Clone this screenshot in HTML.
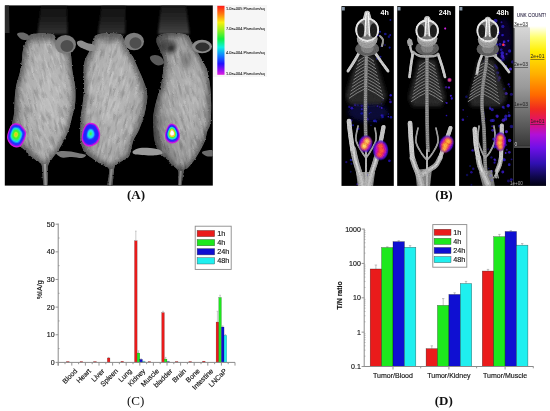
<!DOCTYPE html>
<html><head><meta charset="utf-8"><style>
html,body{margin:0;padding:0;background:#fff;}
body{width:550px;height:411px;overflow:hidden;}
svg{display:block;}
.ct{fill:#111;stroke:#111;stroke-width:0.14px;}
</style></head><body>
<svg width="550" height="411" viewBox="0 0 550 411">
<rect width="550" height="411" fill="#fff"/>
<defs>
<linearGradient id="coneg1" x1="0" y1="0" x2="0" y2="1"><stop offset="0" stop-color="#0e0e0e"/><stop offset="0.5" stop-color="#1c1c1c"/><stop offset="1" stop-color="#333"/></linearGradient>
<linearGradient id="coneg3" x1="0" y1="0" x2="0" y2="1"><stop offset="0" stop-color="#161616"/><stop offset="0.5" stop-color="#282828"/><stop offset="1" stop-color="#444"/></linearGradient>
<radialGradient id="body1" cx="0.58" cy="0.45" r="0.62"><stop offset="0" stop-color="#bababa"/><stop offset="0.55" stop-color="#a8a8a8"/><stop offset="0.82" stop-color="#888"/><stop offset="1" stop-color="#5a5a5a"/></radialGradient>
<radialGradient id="body2" cx="0.48" cy="0.45" r="0.62"><stop offset="0" stop-color="#b8b8b8"/><stop offset="0.55" stop-color="#a6a6a6"/><stop offset="0.82" stop-color="#868686"/><stop offset="1" stop-color="#585858"/></radialGradient>
<radialGradient id="body3" cx="0.6" cy="0.45" r="0.62"><stop offset="0" stop-color="#b0b0b0"/><stop offset="0.55" stop-color="#9c9c9c"/><stop offset="0.82" stop-color="#7e7e7e"/><stop offset="1" stop-color="#505050"/></radialGradient>
<linearGradient id="hl" x1="0" y1="0" x2="0" y2="1"><stop offset="0" stop-color="#fff" stop-opacity="0.12"/><stop offset="0.45" stop-color="#fff" stop-opacity="0.06"/><stop offset="0.75" stop-color="#fff" stop-opacity="0"/><stop offset="1" stop-color="#000" stop-opacity="0.12"/></linearGradient>
<filter id="furf" x="0" y="0" width="100%" height="100%">
<feTurbulence type="fractalNoise" baseFrequency="0.45 0.09" numOctaves="2" seed="7" result="n"/>
<feColorMatrix in="n" type="matrix" values="0 0 0 0 1  0 0 0 0 1  0 0 0 0 1  2.2 0 0 0 -1.0"/>
</filter>
<filter id="furd" x="0" y="0" width="100%" height="100%">
<feTurbulence type="fractalNoise" baseFrequency="0.38 0.08" numOctaves="2" seed="11" result="n"/>
<feColorMatrix in="n" type="matrix" values="0 0 0 0 0  0 0 0 0 0  0 0 0 0 0  2.2 0 0 0 -1.05"/>
</filter>
<filter id="fuzz" x="-5%" y="-5%" width="110%" height="110%"><feTurbulence type="fractalNoise" baseFrequency="0.6" numOctaves="2" seed="4" result="t"/><feDisplacementMap in="SourceGraphic" in2="t" scale="2.4" xChannelSelector="R" yChannelSelector="G" result="d"/><feGaussianBlur in="d" stdDeviation="0.35"/></filter>
<filter id="blurc" x="-20%" y="-20%" width="140%" height="140%"><feGaussianBlur stdDeviation="1.0"/></filter>
<filter id="blur1" x="-30%" y="-30%" width="160%" height="160%"><feGaussianBlur stdDeviation="0.55"/></filter>
<filter id="blur2" x="-20%" y="-20%" width="140%" height="140%"><feGaussianBlur stdDeviation="2.2"/></filter>
<radialGradient id="tum1" cx="0.46" cy="0.42" r="0.56"><stop offset="0" stop-color="#e8e830"/><stop offset="0.14" stop-color="#a8f030"/><stop offset="0.28" stop-color="#34f040"/><stop offset="0.42" stop-color="#20e8b0"/><stop offset="0.52" stop-color="#20a8ff"/><stop offset="0.62" stop-color="#2028ff"/><stop offset="0.74" stop-color="#5a18f8"/><stop offset="0.84" stop-color="#d020e8"/><stop offset="0.93" stop-color="#d020e8"/><stop offset="1" stop-color="#d020e8" stop-opacity="0"/></radialGradient>
<radialGradient id="tum2" cx="0.52" cy="0.45" r="0.56"><stop offset="0" stop-color="#50f080"/><stop offset="0.1" stop-color="#20e8d0"/><stop offset="0.22" stop-color="#20a0ff"/><stop offset="0.32" stop-color="#2030ff"/><stop offset="0.6" stop-color="#3020ff"/><stop offset="0.74" stop-color="#8020f0"/><stop offset="0.85" stop-color="#e020e0"/><stop offset="0.93" stop-color="#e020e0"/><stop offset="1" stop-color="#e020e0" stop-opacity="0"/></radialGradient>
<radialGradient id="tum3" cx="0.5" cy="0.42" r="0.55"><stop offset="0" stop-color="#ffffff"/><stop offset="0.22" stop-color="#f8f8c0"/><stop offset="0.36" stop-color="#e8e020"/><stop offset="0.48" stop-color="#50f040"/><stop offset="0.6" stop-color="#20e0e0"/><stop offset="0.74" stop-color="#2030ff"/><stop offset="0.88" stop-color="#9018f0"/><stop offset="1" stop-color="#d018e0" stop-opacity="0"/></radialGradient>
<clipPath id="clipA"><rect x="4.8" y="5.4" width="208" height="180.2"/></clipPath>
</defs>
<rect x="4.8" y="5.4" width="208" height="180.2" fill="#000"/>
<g clip-path="url(#clipA)">
<path d="M5,5 L9,5 L9.5,33 L5,33Z" fill="#2a2a2a"/>
<path d="M41,5 L67,5 L67.5,34 L37.5,34Z" fill="url(#coneg1)" filter="url(#blurc)"/>
<path d="M101.5,5 L126,5 L125,34 L98,34Z" fill="url(#coneg1)" filter="url(#blurc)"/>
<path d="M161,5 L186,5 L189.5,34 L158,34Z" fill="url(#coneg3)" filter="url(#blurc)"/>
<clipPath id="mc0"><path d="M30.0,35.0 C32.0,33.6 35.2,33.8 38.0,33.5 C40.8,33.2 44.3,33.2 47.0,33.5 C49.7,33.8 52.3,33.6 54.0,35.0 C55.7,36.4 55.5,39.7 57.0,42.0 C58.5,44.3 60.8,47.3 63.0,49.0 C65.2,50.7 68.6,50.2 70.0,52.0 C71.4,53.8 71.1,56.7 71.5,60.0 C71.9,63.3 71.9,67.8 72.5,72.0 C73.1,76.2 74.5,80.8 75.0,85.0 C75.5,89.2 75.6,93.2 75.5,97.0 C75.4,100.8 75.1,104.7 74.5,108.0 C73.9,111.3 72.8,114.0 72.0,117.0 C71.2,120.0 70.8,123.2 70.0,126.0 C69.2,128.8 68.1,131.5 67.0,134.0 C65.9,136.5 64.9,138.3 63.5,141.0 C62.1,143.7 60.3,147.2 58.5,150.0 C56.7,152.8 54.1,155.7 52.5,158.0 C50.9,160.3 49.4,162.0 48.6,164.0 C47.8,166.0 48.1,166.3 47.9,170.0 C47.7,173.7 48.1,183.3 47.4,186.0 C46.7,188.7 44.7,188.7 43.8,186.0 C42.9,183.3 42.6,173.7 42.2,170.0 C41.8,166.3 42.1,165.5 41.2,164.0 C40.3,162.5 38.4,162.0 37.0,161.0 C35.6,160.0 34.5,159.2 33.0,158.0 C31.5,156.8 29.6,155.5 28.0,154.0 C26.4,152.5 25.5,150.8 23.5,149.0 C21.5,147.2 18.1,145.5 16.0,143.0 C13.9,140.5 11.7,137.2 11.0,134.0 C10.3,130.8 11.5,127.3 12.0,124.0 C12.5,120.7 13.6,117.3 14.0,114.0 C14.4,110.7 14.3,107.2 14.5,104.0 C14.7,100.8 14.7,98.2 15.0,95.0 C15.3,91.8 15.5,88.8 16.3,85.0 C17.1,81.2 19.1,76.2 20.0,72.0 C20.9,67.8 21.5,63.7 22.0,60.0 C22.5,56.3 22.3,53.0 23.0,50.0 C23.7,47.0 24.8,44.5 26.0,42.0 C27.2,39.5 28.0,36.4 30.0,35.0Z"/></clipPath>
<g filter="url(#fuzz)"><path d="M30.0,35.0 C32.0,33.6 35.2,33.8 38.0,33.5 C40.8,33.2 44.3,33.2 47.0,33.5 C49.7,33.8 52.3,33.6 54.0,35.0 C55.7,36.4 55.5,39.7 57.0,42.0 C58.5,44.3 60.8,47.3 63.0,49.0 C65.2,50.7 68.6,50.2 70.0,52.0 C71.4,53.8 71.1,56.7 71.5,60.0 C71.9,63.3 71.9,67.8 72.5,72.0 C73.1,76.2 74.5,80.8 75.0,85.0 C75.5,89.2 75.6,93.2 75.5,97.0 C75.4,100.8 75.1,104.7 74.5,108.0 C73.9,111.3 72.8,114.0 72.0,117.0 C71.2,120.0 70.8,123.2 70.0,126.0 C69.2,128.8 68.1,131.5 67.0,134.0 C65.9,136.5 64.9,138.3 63.5,141.0 C62.1,143.7 60.3,147.2 58.5,150.0 C56.7,152.8 54.1,155.7 52.5,158.0 C50.9,160.3 49.4,162.0 48.6,164.0 C47.8,166.0 48.1,166.3 47.9,170.0 C47.7,173.7 48.1,183.3 47.4,186.0 C46.7,188.7 44.7,188.7 43.8,186.0 C42.9,183.3 42.6,173.7 42.2,170.0 C41.8,166.3 42.1,165.5 41.2,164.0 C40.3,162.5 38.4,162.0 37.0,161.0 C35.6,160.0 34.5,159.2 33.0,158.0 C31.5,156.8 29.6,155.5 28.0,154.0 C26.4,152.5 25.5,150.8 23.5,149.0 C21.5,147.2 18.1,145.5 16.0,143.0 C13.9,140.5 11.7,137.2 11.0,134.0 C10.3,130.8 11.5,127.3 12.0,124.0 C12.5,120.7 13.6,117.3 14.0,114.0 C14.4,110.7 14.3,107.2 14.5,104.0 C14.7,100.8 14.7,98.2 15.0,95.0 C15.3,91.8 15.5,88.8 16.3,85.0 C17.1,81.2 19.1,76.2 20.0,72.0 C20.9,67.8 21.5,63.7 22.0,60.0 C22.5,56.3 22.3,53.0 23.0,50.0 C23.7,47.0 24.8,44.5 26.0,42.0 C27.2,39.5 28.0,36.4 30.0,35.0Z" fill="url(#body1)"/>
<g clip-path="url(#mc0)"><g transform="rotate(-18 43.5 109.5)"><rect x="-20" y="13" width="127" height="193" filter="url(#furf)" opacity="0.32"/><rect x="-20" y="13" width="127" height="193" filter="url(#furd)" opacity="0.26"/></g><rect x="10" y="33" width="67" height="153" fill="url(#hl)"/><path d="M30.0,35.0 C32.0,33.6 35.2,33.8 38.0,33.5 C40.8,33.2 44.3,33.2 47.0,33.5 C49.7,33.8 52.3,33.6 54.0,35.0 C55.7,36.4 55.5,39.7 57.0,42.0 C58.5,44.3 60.8,47.3 63.0,49.0 C65.2,50.7 68.6,50.2 70.0,52.0 C71.4,53.8 71.1,56.7 71.5,60.0 C71.9,63.3 71.9,67.8 72.5,72.0 C73.1,76.2 74.5,80.8 75.0,85.0 C75.5,89.2 75.6,93.2 75.5,97.0 C75.4,100.8 75.1,104.7 74.5,108.0 C73.9,111.3 72.8,114.0 72.0,117.0 C71.2,120.0 70.8,123.2 70.0,126.0 C69.2,128.8 68.1,131.5 67.0,134.0 C65.9,136.5 64.9,138.3 63.5,141.0 C62.1,143.7 60.3,147.2 58.5,150.0 C56.7,152.8 54.1,155.7 52.5,158.0 C50.9,160.3 49.4,162.0 48.6,164.0 C47.8,166.0 48.1,166.3 47.9,170.0 C47.7,173.7 48.1,183.3 47.4,186.0 C46.7,188.7 44.7,188.7 43.8,186.0 C42.9,183.3 42.6,173.7 42.2,170.0 C41.8,166.3 42.1,165.5 41.2,164.0 C40.3,162.5 38.4,162.0 37.0,161.0 C35.6,160.0 34.5,159.2 33.0,158.0 C31.5,156.8 29.6,155.5 28.0,154.0 C26.4,152.5 25.5,150.8 23.5,149.0 C21.5,147.2 18.1,145.5 16.0,143.0 C13.9,140.5 11.7,137.2 11.0,134.0 C10.3,130.8 11.5,127.3 12.0,124.0 C12.5,120.7 13.6,117.3 14.0,114.0 C14.4,110.7 14.3,107.2 14.5,104.0 C14.7,100.8 14.7,98.2 15.0,95.0 C15.3,91.8 15.5,88.8 16.3,85.0 C17.1,81.2 19.1,76.2 20.0,72.0 C20.9,67.8 21.5,63.7 22.0,60.0 C22.5,56.3 22.3,53.0 23.0,50.0 C23.7,47.0 24.8,44.5 26.0,42.0 C27.2,39.5 28.0,36.4 30.0,35.0Z" fill="none" stroke="#303030" stroke-width="6" filter="url(#blur2)" opacity="0.6"/></g></g>
<clipPath id="mc1"><path d="M95.0,36.0 C96.8,34.2 100.2,33.9 103.0,33.5 C105.8,33.1 109.0,33.3 112.0,33.5 C115.0,33.7 119.0,33.4 121.0,34.5 C123.0,35.6 122.8,37.4 124.0,40.0 C125.2,42.6 126.5,47.2 128.0,50.0 C129.5,52.8 131.5,54.3 133.0,57.0 C134.5,59.7 135.7,63.0 137.0,66.0 C138.3,69.0 139.7,71.8 141.0,75.0 C142.3,78.2 143.9,81.5 145.0,85.0 C146.1,88.5 147.3,91.5 147.3,96.0 C147.3,100.5 145.9,107.7 145.0,112.0 C144.1,116.3 143.2,118.7 142.0,122.0 C140.8,125.3 139.4,129.0 138.0,132.0 C136.6,135.0 134.7,137.0 133.5,140.0 C132.3,143.0 131.8,147.2 131.0,150.0 C130.2,152.8 130.0,155.2 128.5,157.0 C127.0,158.8 124.1,159.7 122.0,161.0 C119.9,162.3 117.3,163.6 116.0,165.0 C114.7,166.4 114.6,166.0 114.0,169.5 C113.4,173.0 113.3,183.2 112.2,186.0 C111.1,188.8 108.1,188.7 107.6,186.0 C107.1,183.3 109.6,173.3 109.2,170.0 C108.8,166.7 106.7,167.2 105.0,166.0 C103.3,164.8 101.2,164.3 99.0,163.0 C96.8,161.7 93.9,159.3 92.0,158.0 C90.1,156.7 88.9,156.3 87.5,155.0 C86.1,153.7 84.7,152.5 83.5,150.0 C82.3,147.5 80.8,143.7 80.3,140.0 C79.8,136.3 80.2,132.0 80.3,128.0 C80.4,124.0 80.4,119.8 80.8,116.0 C81.2,112.2 82.0,109.0 82.5,105.0 C83.0,101.0 83.8,96.2 84.0,92.0 C84.2,87.8 84.0,84.0 84.0,80.0 C84.0,76.0 83.5,71.3 83.7,68.0 C83.9,64.7 84.1,62.7 85.0,60.0 C85.9,57.3 87.8,54.7 89.0,52.0 C90.2,49.3 91.0,46.7 92.0,44.0 C93.0,41.3 93.2,37.8 95.0,36.0Z"/></clipPath>
<g filter="url(#fuzz)"><path d="M95.0,36.0 C96.8,34.2 100.2,33.9 103.0,33.5 C105.8,33.1 109.0,33.3 112.0,33.5 C115.0,33.7 119.0,33.4 121.0,34.5 C123.0,35.6 122.8,37.4 124.0,40.0 C125.2,42.6 126.5,47.2 128.0,50.0 C129.5,52.8 131.5,54.3 133.0,57.0 C134.5,59.7 135.7,63.0 137.0,66.0 C138.3,69.0 139.7,71.8 141.0,75.0 C142.3,78.2 143.9,81.5 145.0,85.0 C146.1,88.5 147.3,91.5 147.3,96.0 C147.3,100.5 145.9,107.7 145.0,112.0 C144.1,116.3 143.2,118.7 142.0,122.0 C140.8,125.3 139.4,129.0 138.0,132.0 C136.6,135.0 134.7,137.0 133.5,140.0 C132.3,143.0 131.8,147.2 131.0,150.0 C130.2,152.8 130.0,155.2 128.5,157.0 C127.0,158.8 124.1,159.7 122.0,161.0 C119.9,162.3 117.3,163.6 116.0,165.0 C114.7,166.4 114.6,166.0 114.0,169.5 C113.4,173.0 113.3,183.2 112.2,186.0 C111.1,188.8 108.1,188.7 107.6,186.0 C107.1,183.3 109.6,173.3 109.2,170.0 C108.8,166.7 106.7,167.2 105.0,166.0 C103.3,164.8 101.2,164.3 99.0,163.0 C96.8,161.7 93.9,159.3 92.0,158.0 C90.1,156.7 88.9,156.3 87.5,155.0 C86.1,153.7 84.7,152.5 83.5,150.0 C82.3,147.5 80.8,143.7 80.3,140.0 C79.8,136.3 80.2,132.0 80.3,128.0 C80.4,124.0 80.4,119.8 80.8,116.0 C81.2,112.2 82.0,109.0 82.5,105.0 C83.0,101.0 83.8,96.2 84.0,92.0 C84.2,87.8 84.0,84.0 84.0,80.0 C84.0,76.0 83.5,71.3 83.7,68.0 C83.9,64.7 84.1,62.7 85.0,60.0 C85.9,57.3 87.8,54.7 89.0,52.0 C90.2,49.3 91.0,46.7 92.0,44.0 C93.0,41.3 93.2,37.8 95.0,36.0Z" fill="url(#body2)"/>
<g clip-path="url(#mc1)"><g transform="rotate(12 114.0 109.5)"><rect x="49" y="13" width="130" height="193" filter="url(#furf)" opacity="0.32"/><rect x="49" y="13" width="130" height="193" filter="url(#furd)" opacity="0.26"/></g><rect x="79" y="33" width="70" height="153" fill="url(#hl)"/><path d="M95.0,36.0 C96.8,34.2 100.2,33.9 103.0,33.5 C105.8,33.1 109.0,33.3 112.0,33.5 C115.0,33.7 119.0,33.4 121.0,34.5 C123.0,35.6 122.8,37.4 124.0,40.0 C125.2,42.6 126.5,47.2 128.0,50.0 C129.5,52.8 131.5,54.3 133.0,57.0 C134.5,59.7 135.7,63.0 137.0,66.0 C138.3,69.0 139.7,71.8 141.0,75.0 C142.3,78.2 143.9,81.5 145.0,85.0 C146.1,88.5 147.3,91.5 147.3,96.0 C147.3,100.5 145.9,107.7 145.0,112.0 C144.1,116.3 143.2,118.7 142.0,122.0 C140.8,125.3 139.4,129.0 138.0,132.0 C136.6,135.0 134.7,137.0 133.5,140.0 C132.3,143.0 131.8,147.2 131.0,150.0 C130.2,152.8 130.0,155.2 128.5,157.0 C127.0,158.8 124.1,159.7 122.0,161.0 C119.9,162.3 117.3,163.6 116.0,165.0 C114.7,166.4 114.6,166.0 114.0,169.5 C113.4,173.0 113.3,183.2 112.2,186.0 C111.1,188.8 108.1,188.7 107.6,186.0 C107.1,183.3 109.6,173.3 109.2,170.0 C108.8,166.7 106.7,167.2 105.0,166.0 C103.3,164.8 101.2,164.3 99.0,163.0 C96.8,161.7 93.9,159.3 92.0,158.0 C90.1,156.7 88.9,156.3 87.5,155.0 C86.1,153.7 84.7,152.5 83.5,150.0 C82.3,147.5 80.8,143.7 80.3,140.0 C79.8,136.3 80.2,132.0 80.3,128.0 C80.4,124.0 80.4,119.8 80.8,116.0 C81.2,112.2 82.0,109.0 82.5,105.0 C83.0,101.0 83.8,96.2 84.0,92.0 C84.2,87.8 84.0,84.0 84.0,80.0 C84.0,76.0 83.5,71.3 83.7,68.0 C83.9,64.7 84.1,62.7 85.0,60.0 C85.9,57.3 87.8,54.7 89.0,52.0 C90.2,49.3 91.0,46.7 92.0,44.0 C93.0,41.3 93.2,37.8 95.0,36.0Z" fill="none" stroke="#303030" stroke-width="6" filter="url(#blur2)" opacity="0.6"/></g></g>
<clipPath id="mc2"><path d="M158.0,36.0 C159.6,34.6 163.2,33.9 166.0,33.5 C168.8,33.1 172.0,33.4 175.0,33.5 C178.0,33.6 181.7,33.4 184.0,34.0 C186.3,34.6 187.7,35.5 189.0,37.0 C190.3,38.5 190.8,40.8 192.0,43.0 C193.2,45.2 194.3,47.2 196.0,50.0 C197.7,52.8 200.2,56.7 202.0,60.0 C203.8,63.3 205.7,65.8 207.0,70.0 C208.3,74.2 209.3,80.0 210.0,85.0 C210.7,90.0 210.8,95.0 211.0,100.0 C211.2,105.0 211.2,110.8 211.0,115.0 C210.8,119.2 210.7,122.2 210.0,125.0 C209.3,127.8 207.8,129.5 207.0,132.0 C206.2,134.5 206.3,137.0 205.2,140.0 C204.1,143.0 202.2,146.7 200.4,150.0 C198.6,153.3 196.4,157.0 194.3,160.0 C192.2,163.0 189.3,166.2 187.6,168.0 C185.9,169.8 185.1,167.5 184.0,170.5 C182.9,173.5 182.2,183.4 181.2,186.0 C180.2,188.6 178.7,188.5 178.2,186.0 C177.7,183.5 179.2,174.5 178.2,171.0 C177.2,167.5 174.1,167.2 172.0,165.0 C169.9,162.8 167.7,159.8 165.7,158.0 C163.7,156.2 161.6,156.0 160.0,154.0 C158.4,152.0 157.3,148.7 156.3,146.0 C155.3,143.3 154.5,141.5 154.0,138.0 C153.5,134.5 153.5,128.8 153.4,125.0 C153.3,121.2 153.1,118.3 153.4,115.0 C153.7,111.7 154.5,108.3 155.3,105.0 C156.1,101.7 157.1,98.3 158.0,95.0 C158.9,91.7 160.2,88.8 161.0,85.0 C161.8,81.2 162.5,76.2 163.0,72.0 C163.5,67.8 164.3,63.7 163.8,60.0 C163.3,56.3 161.2,53.0 160.0,50.0 C158.8,47.0 156.8,44.3 156.5,42.0 C156.2,39.7 156.4,37.4 158.0,36.0Z"/></clipPath>
<g filter="url(#fuzz)"><path d="M158.0,36.0 C159.6,34.6 163.2,33.9 166.0,33.5 C168.8,33.1 172.0,33.4 175.0,33.5 C178.0,33.6 181.7,33.4 184.0,34.0 C186.3,34.6 187.7,35.5 189.0,37.0 C190.3,38.5 190.8,40.8 192.0,43.0 C193.2,45.2 194.3,47.2 196.0,50.0 C197.7,52.8 200.2,56.7 202.0,60.0 C203.8,63.3 205.7,65.8 207.0,70.0 C208.3,74.2 209.3,80.0 210.0,85.0 C210.7,90.0 210.8,95.0 211.0,100.0 C211.2,105.0 211.2,110.8 211.0,115.0 C210.8,119.2 210.7,122.2 210.0,125.0 C209.3,127.8 207.8,129.5 207.0,132.0 C206.2,134.5 206.3,137.0 205.2,140.0 C204.1,143.0 202.2,146.7 200.4,150.0 C198.6,153.3 196.4,157.0 194.3,160.0 C192.2,163.0 189.3,166.2 187.6,168.0 C185.9,169.8 185.1,167.5 184.0,170.5 C182.9,173.5 182.2,183.4 181.2,186.0 C180.2,188.6 178.7,188.5 178.2,186.0 C177.7,183.5 179.2,174.5 178.2,171.0 C177.2,167.5 174.1,167.2 172.0,165.0 C169.9,162.8 167.7,159.8 165.7,158.0 C163.7,156.2 161.6,156.0 160.0,154.0 C158.4,152.0 157.3,148.7 156.3,146.0 C155.3,143.3 154.5,141.5 154.0,138.0 C153.5,134.5 153.5,128.8 153.4,125.0 C153.3,121.2 153.1,118.3 153.4,115.0 C153.7,111.7 154.5,108.3 155.3,105.0 C156.1,101.7 157.1,98.3 158.0,95.0 C158.9,91.7 160.2,88.8 161.0,85.0 C161.8,81.2 162.5,76.2 163.0,72.0 C163.5,67.8 164.3,63.7 163.8,60.0 C163.3,56.3 161.2,53.0 160.0,50.0 C158.8,47.0 156.8,44.3 156.5,42.0 C156.2,39.7 156.4,37.4 158.0,36.0Z" fill="url(#body3)"/>
<g clip-path="url(#mc2)"><g transform="rotate(-14 182.5 109.5)"><rect x="122" y="13" width="121" height="193" filter="url(#furf)" opacity="0.32"/><rect x="122" y="13" width="121" height="193" filter="url(#furd)" opacity="0.26"/></g><rect x="152" y="33" width="61" height="153" fill="url(#hl)"/><path d="M158.0,36.0 C159.6,34.6 163.2,33.9 166.0,33.5 C168.8,33.1 172.0,33.4 175.0,33.5 C178.0,33.6 181.7,33.4 184.0,34.0 C186.3,34.6 187.7,35.5 189.0,37.0 C190.3,38.5 190.8,40.8 192.0,43.0 C193.2,45.2 194.3,47.2 196.0,50.0 C197.7,52.8 200.2,56.7 202.0,60.0 C203.8,63.3 205.7,65.8 207.0,70.0 C208.3,74.2 209.3,80.0 210.0,85.0 C210.7,90.0 210.8,95.0 211.0,100.0 C211.2,105.0 211.2,110.8 211.0,115.0 C210.8,119.2 210.7,122.2 210.0,125.0 C209.3,127.8 207.8,129.5 207.0,132.0 C206.2,134.5 206.3,137.0 205.2,140.0 C204.1,143.0 202.2,146.7 200.4,150.0 C198.6,153.3 196.4,157.0 194.3,160.0 C192.2,163.0 189.3,166.2 187.6,168.0 C185.9,169.8 185.1,167.5 184.0,170.5 C182.9,173.5 182.2,183.4 181.2,186.0 C180.2,188.6 178.7,188.5 178.2,186.0 C177.7,183.5 179.2,174.5 178.2,171.0 C177.2,167.5 174.1,167.2 172.0,165.0 C169.9,162.8 167.7,159.8 165.7,158.0 C163.7,156.2 161.6,156.0 160.0,154.0 C158.4,152.0 157.3,148.7 156.3,146.0 C155.3,143.3 154.5,141.5 154.0,138.0 C153.5,134.5 153.5,128.8 153.4,125.0 C153.3,121.2 153.1,118.3 153.4,115.0 C153.7,111.7 154.5,108.3 155.3,105.0 C156.1,101.7 157.1,98.3 158.0,95.0 C158.9,91.7 160.2,88.8 161.0,85.0 C161.8,81.2 162.5,76.2 163.0,72.0 C163.5,67.8 164.3,63.7 163.8,60.0 C163.3,56.3 161.2,53.0 160.0,50.0 C158.8,47.0 156.8,44.3 156.5,42.0 C156.2,39.7 156.4,37.4 158.0,36.0Z" fill="none" stroke="#303030" stroke-width="6" filter="url(#blur2)" opacity="0.6"/></g></g>
<g clip-path="url(#mc2)" filter="url(#blur2)"><ellipse cx="168" cy="46" rx="9" ry="7" fill="#202020" opacity="0.55"/><ellipse cx="171" cy="49" rx="3.5" ry="3" fill="#101010" opacity="0.7"/><ellipse cx="186" cy="60" rx="6" ry="8" fill="#303030" opacity="0.35"/></g>
<g clip-path="url(#mc0)" filter="url(#blur2)"><ellipse cx="42" cy="38" rx="12" ry="4" fill="#303030" opacity="0.35"/></g>
<g clip-path="url(#mc1)" filter="url(#blur2)"><ellipse cx="110" cy="38" rx="12" ry="4" fill="#303030" opacity="0.35"/></g>
<path d="M44.9,164 L45.7,186" stroke="#c8c8c8" stroke-width="2.4" opacity="0.55"/>
<path d="M111.6,169 L109.9,186" stroke="#b8b8b8" stroke-width="2.2" opacity="0.5"/>
<path d="M180.8,171 L179.7,186" stroke="#b8b8b8" stroke-width="2" opacity="0.5"/>
<ellipse cx="65.5" cy="44.5" rx="10.5" ry="9.5" fill="#7c7c7c"/><ellipse cx="67" cy="46" rx="6.5" ry="6" fill="#4e4e4e"/>
<ellipse cx="134" cy="41.5" rx="10" ry="8.8" fill="#7c7c7c"/><ellipse cx="135.5" cy="43" rx="6" ry="5.8" fill="#4e4e4e"/>
<ellipse cx="202" cy="46.5" rx="10" ry="6.8" fill="#8a8a8a"/><ellipse cx="202.5" cy="47" rx="7.2" ry="4.4" fill="#303030"/>
<path d="M77.0,42.0 C77.4,41.1 79.3,40.3 81.0,40.5 C82.7,40.7 84.8,42.2 87.0,43.0 C89.2,43.8 92.5,43.8 94.0,45.0 C95.5,46.2 96.7,49.0 96.0,50.0 C95.3,51.0 92.0,51.2 90.0,51.0 C88.0,50.8 85.9,49.8 84.0,49.0 C82.1,48.2 79.7,47.2 78.5,46.0 C77.3,44.8 76.6,42.9 77.0,42.0Z" fill="#8e8e8e"/>
<path d="M56.0,153.0 C56.0,151.9 59.5,151.2 62.0,151.0 C64.5,150.8 68.0,151.1 71.0,151.5 C74.0,151.9 77.5,152.9 80.0,153.5 C82.5,154.1 85.7,154.2 86.0,155.0 C86.3,155.8 84.3,157.7 82.0,158.0 C79.7,158.3 75.3,157.1 72.0,157.0 C68.7,156.9 64.7,158.2 62.0,157.5 C59.3,156.8 56.0,154.1 56.0,153.0Z" fill="#7a7a7a"/>
<path d="M133.0,151.0 C134.0,150.0 137.2,148.5 140.0,148.0 C142.8,147.5 146.7,147.7 150.0,148.0 C153.3,148.3 158.0,149.0 160.0,150.0 C162.0,151.0 163.3,153.1 162.0,154.0 C160.7,154.9 155.3,155.3 152.0,155.5 C148.7,155.7 145.0,155.2 142.0,155.0 C139.0,154.8 135.5,154.7 134.0,154.0 C132.5,153.3 132.0,152.0 133.0,151.0Z" fill="#9a9a9a"/>
<path d="M150.0,57.0 C150.5,55.8 153.2,55.0 155.0,55.0 C156.8,55.0 159.5,55.7 161.0,57.0 C162.5,58.3 164.5,61.6 164.0,63.0 C163.5,64.4 160.0,65.7 158.0,65.5 C156.0,65.3 153.3,63.4 152.0,62.0 C150.7,60.6 149.5,58.2 150.0,57.0Z" fill="#5a5a5a"/>
<path d="M202.0,152.0 C202.7,151.0 208.2,150.2 210.0,150.0 C211.8,149.8 212.5,150.0 213.0,151.0 C213.5,152.0 214.2,155.2 213.0,156.0 C211.8,156.8 207.8,156.7 206.0,156.0 C204.2,155.3 201.3,153.0 202.0,152.0Z" fill="#6a6a6a"/>
<path d="M17.0,34.0 C17.2,32.9 20.3,32.5 22.0,32.5 C23.7,32.5 25.7,33.1 27.0,34.0 C28.3,34.9 30.2,37.0 30.0,38.0 C29.8,39.0 27.5,39.8 26.0,40.0 C24.5,40.2 22.5,40.0 21.0,39.0 C19.5,38.0 16.8,35.1 17.0,34.0Z" fill="#6a6a6a"/>
<g filter="url(#blur1)"><path d="M14.4,123.4 C15.9,123.2 18.4,123.6 19.8,124.2 C21.2,124.8 21.7,125.8 22.7,127.1 C23.7,128.4 25.5,130.3 26.0,132.0 C26.5,133.7 25.9,135.3 25.5,137.0 C25.1,138.7 24.4,140.4 23.5,142.0 C22.6,143.6 21.6,145.6 20.2,146.5 C18.8,147.4 16.8,147.7 15.2,147.3 C13.5,147.0 11.6,145.7 10.3,144.4 C9.0,143.1 7.9,141.2 7.4,139.5 C6.9,137.8 7.1,136.2 7.4,134.5 C7.7,132.8 8.4,131.1 9.0,129.6 C9.6,128.1 10.2,126.4 11.1,125.4 C12.0,124.4 12.9,123.6 14.4,123.4Z" fill="#d418e0"/><path d="M14.5,124.5 C15.8,124.3 18.2,124.7 19.4,125.2 C20.6,125.8 21.1,126.6 22.0,127.8 C22.9,129.0 24.6,130.7 25.0,132.2 C25.4,133.7 24.9,135.2 24.5,136.7 C24.2,138.2 23.5,139.8 22.7,141.2 C21.9,142.7 21.0,144.5 19.8,145.3 C18.5,146.1 16.7,146.3 15.3,146.0 C13.8,145.7 12.0,144.6 10.9,143.4 C9.7,142.2 8.7,140.5 8.2,139.0 C7.8,137.5 8.0,136.0 8.2,134.5 C8.5,133.0 9.1,131.4 9.7,130.1 C10.2,128.7 10.8,127.2 11.6,126.3 C12.4,125.4 13.2,124.7 14.5,124.5Z" fill="#7a18f0"/><path d="M14.7,125.4 C15.8,125.2 17.9,125.5 19.1,126.0 C20.2,126.5 20.6,127.3 21.5,128.4 C22.3,129.5 23.8,131.1 24.2,132.4 C24.5,133.8 24.1,135.1 23.8,136.5 C23.4,137.9 22.8,139.3 22.1,140.6 C21.4,141.9 20.5,143.6 19.4,144.3 C18.3,145.0 16.7,145.2 15.3,145.0 C14.0,144.7 12.4,143.6 11.3,142.6 C10.2,141.5 9.3,139.9 8.9,138.6 C8.5,137.2 8.7,135.8 8.9,134.5 C9.1,133.1 9.7,131.7 10.2,130.4 C10.7,129.2 11.2,127.8 11.9,127.0 C12.7,126.2 13.5,125.5 14.7,125.4Z" fill="#2030ff"/><path d="M14.9,127.1 C15.8,127.0 17.5,127.2 18.4,127.6 C19.4,128.0 19.7,128.7 20.4,129.5 C21.0,130.4 22.2,131.7 22.5,132.8 C22.8,133.9 22.5,135.0 22.2,136.1 C21.9,137.2 21.5,138.3 20.9,139.4 C20.3,140.4 19.6,141.8 18.7,142.4 C17.8,142.9 16.5,143.1 15.4,142.9 C14.3,142.6 13.0,141.8 12.2,141.0 C11.3,140.1 10.6,138.8 10.3,137.7 C9.9,136.6 10.1,135.5 10.3,134.4 C10.4,133.3 10.9,132.2 11.3,131.2 C11.7,130.2 12.1,129.1 12.7,128.4 C13.3,127.7 13.9,127.2 14.9,127.1Z" fill="#1890ff"/><path d="M15.0,128.0 C15.8,127.9 17.3,128.1 18.1,128.4 C18.9,128.8 19.2,129.4 19.8,130.1 C20.4,130.9 21.4,132.0 21.7,133.0 C22.0,133.9 21.7,134.9 21.4,135.9 C21.2,136.8 20.8,137.8 20.3,138.8 C19.8,139.7 19.2,140.9 18.4,141.4 C17.5,141.9 16.4,142.0 15.5,141.8 C14.5,141.6 13.4,140.9 12.6,140.2 C11.9,139.4 11.2,138.3 10.9,137.3 C10.6,136.4 10.8,135.4 10.9,134.4 C11.1,133.5 11.5,132.5 11.9,131.6 C12.2,130.7 12.6,129.7 13.1,129.1 C13.6,128.5 14.1,128.1 15.0,128.0Z" fill="#18e0e0"/><path d="M15.1,128.9 C15.8,128.8 17.1,128.9 17.8,129.2 C18.5,129.6 18.7,130.0 19.2,130.7 C19.8,131.3 20.7,132.3 20.9,133.2 C21.1,134.0 20.9,134.8 20.6,135.7 C20.4,136.5 20.1,137.4 19.6,138.2 C19.2,138.9 18.7,140.0 18.0,140.4 C17.3,140.8 16.3,141.0 15.5,140.8 C14.7,140.6 13.7,140.0 13.1,139.4 C12.4,138.7 11.8,137.7 11.6,136.9 C11.4,136.1 11.5,135.2 11.6,134.4 C11.7,133.6 12.1,132.7 12.4,131.9 C12.7,131.2 13.0,130.4 13.4,129.9 C13.9,129.3 14.4,129.0 15.1,128.9Z" fill="#20f090"/><path d="M15.2,129.9 C15.8,129.9 16.8,130.0 17.4,130.3 C18.0,130.5 18.1,130.9 18.6,131.4 C19.0,131.9 19.7,132.7 19.9,133.4 C20.1,134.0 19.8,134.7 19.7,135.4 C19.5,136.0 19.2,136.7 18.9,137.4 C18.5,138.0 18.1,138.8 17.6,139.2 C17.0,139.5 16.2,139.6 15.6,139.5 C14.9,139.4 14.1,138.9 13.6,138.3 C13.1,137.8 12.6,137.0 12.4,136.4 C12.2,135.7 12.3,135.0 12.4,134.4 C12.5,133.7 12.8,133.0 13.1,132.4 C13.3,131.8 13.6,131.2 13.9,130.7 C14.3,130.3 14.7,130.0 15.2,129.9Z" fill="#40f030"/><path d="M15.5,131.7 C15.8,131.6 16.4,131.7 16.8,131.9 C17.1,132.0 17.2,132.3 17.5,132.6 C17.7,132.9 18.1,133.4 18.2,133.7 C18.4,134.1 18.2,134.5 18.1,134.9 C18.0,135.3 17.9,135.8 17.6,136.1 C17.4,136.5 17.2,137.0 16.9,137.2 C16.5,137.4 16.1,137.5 15.7,137.4 C15.3,137.3 14.8,137.0 14.5,136.7 C14.2,136.4 13.9,135.9 13.8,135.5 C13.7,135.2 13.7,134.7 13.8,134.3 C13.8,134.0 14.0,133.5 14.2,133.2 C14.3,132.8 14.5,132.4 14.7,132.2 C14.9,131.9 15.1,131.7 15.5,131.7Z" fill="#b8f020"/><path d="M15.6,133.0 C15.8,133.0 16.1,133.0 16.3,133.1 C16.4,133.2 16.5,133.3 16.6,133.4 C16.8,133.6 17.0,133.8 17.0,134.0 C17.1,134.2 17.0,134.4 17.0,134.6 C16.9,134.8 16.8,135.0 16.7,135.2 C16.6,135.4 16.5,135.7 16.3,135.8 C16.2,135.9 15.9,135.9 15.7,135.9 C15.5,135.8 15.3,135.7 15.1,135.5 C15.0,135.4 14.9,135.1 14.8,134.9 C14.7,134.7 14.8,134.5 14.8,134.3 C14.8,134.1 14.9,133.9 15.0,133.7 C15.1,133.6 15.1,133.4 15.2,133.2 C15.3,133.1 15.5,133.0 15.6,133.0Z" fill="#f0c020"/></g>
<g filter="url(#blur1)"><path d="M88.4,123.0 C90.1,122.4 92.6,122.7 94.2,123.4 C95.8,124.1 96.9,125.5 97.9,127.1 C98.9,128.7 99.7,131.0 100.0,132.9 C100.3,134.8 100.1,136.9 99.6,138.7 C99.0,140.5 98.2,142.3 96.7,143.6 C95.2,144.9 92.8,146.2 90.9,146.5 C89.0,146.8 86.6,146.3 85.1,145.3 C83.6,144.3 82.3,142.2 81.8,140.3 C81.3,138.4 81.8,135.9 82.2,133.7 C82.6,131.5 83.3,128.9 84.3,127.1 C85.3,125.3 86.8,123.6 88.4,123.0Z" fill="#d818e0"/><path d="M88.7,124.3 C90.1,123.7 92.4,124.0 93.8,124.6 C95.2,125.2 96.2,126.5 97.0,127.9 C97.9,129.3 98.6,131.3 98.9,133.0 C99.1,134.7 99.0,136.5 98.5,138.1 C98.0,139.6 97.2,141.2 96.0,142.4 C94.7,143.5 92.6,144.7 90.9,144.9 C89.2,145.2 87.1,144.8 85.8,143.9 C84.4,143.0 83.3,141.2 82.9,139.5 C82.4,137.8 82.8,135.6 83.2,133.7 C83.6,131.7 84.1,129.4 85.1,127.9 C86.0,126.3 87.2,124.8 88.7,124.3Z" fill="#6a18f0"/><path d="M88.8,125.1 C90.2,124.6 92.2,124.9 93.5,125.4 C94.7,126.0 95.7,127.1 96.4,128.4 C97.2,129.6 97.9,131.5 98.1,133.0 C98.3,134.6 98.2,136.2 97.8,137.7 C97.4,139.1 96.6,140.5 95.5,141.6 C94.3,142.6 92.4,143.7 90.8,143.9 C89.3,144.1 87.4,143.8 86.2,142.9 C85.0,142.1 83.9,140.5 83.6,138.9 C83.2,137.4 83.5,135.4 83.9,133.7 C84.2,131.9 84.7,129.8 85.6,128.4 C86.4,127.0 87.5,125.6 88.8,125.1Z" fill="#2424ff"/><path d="M89.5,128.2 C90.3,127.9 91.6,128.1 92.4,128.4 C93.2,128.8 93.8,129.5 94.2,130.3 C94.7,131.1 95.2,132.2 95.3,133.2 C95.4,134.2 95.4,135.2 95.1,136.1 C94.8,137.0 94.4,137.9 93.7,138.6 C92.9,139.2 91.7,139.9 90.8,140.0 C89.8,140.1 88.6,139.9 87.8,139.4 C87.1,138.9 86.4,137.9 86.2,136.9 C86.0,135.9 86.2,134.7 86.4,133.6 C86.6,132.5 86.9,131.2 87.4,130.3 C88.0,129.4 88.7,128.6 89.5,128.2Z" fill="#2040ff"/><path d="M89.7,129.1 C90.4,128.8 91.4,129.0 92.1,129.3 C92.8,129.5 93.3,130.1 93.7,130.8 C94.1,131.5 94.4,132.4 94.5,133.2 C94.7,134.1 94.6,134.9 94.4,135.7 C94.1,136.4 93.8,137.2 93.2,137.7 C92.6,138.3 91.5,138.8 90.7,139.0 C89.9,139.1 88.9,138.9 88.3,138.5 C87.7,138.0 87.1,137.2 86.9,136.4 C86.7,135.5 86.9,134.5 87.1,133.6 C87.2,132.7 87.5,131.6 88.0,130.8 C88.4,130.1 89.0,129.3 89.7,129.1Z" fill="#2090ff"/><path d="M89.9,129.9 C90.4,129.7 91.3,129.8 91.8,130.1 C92.4,130.3 92.8,130.8 93.1,131.3 C93.4,131.9 93.7,132.6 93.8,133.3 C93.9,134.0 93.8,134.7 93.7,135.3 C93.5,135.9 93.2,136.5 92.7,136.9 C92.2,137.4 91.4,137.8 90.7,137.9 C90.0,138.0 89.2,137.9 88.7,137.5 C88.2,137.2 87.8,136.5 87.6,135.8 C87.4,135.2 87.6,134.3 87.7,133.6 C87.9,132.8 88.1,131.9 88.5,131.3 C88.8,130.7 89.3,130.1 89.9,129.9Z" fill="#20e0e8"/><path d="M90.2,131.4 C90.5,131.3 91.0,131.3 91.3,131.5 C91.6,131.6 91.9,131.9 92.1,132.2 C92.3,132.5 92.4,133.0 92.5,133.4 C92.5,133.8 92.5,134.2 92.4,134.5 C92.3,134.9 92.1,135.3 91.8,135.5 C91.5,135.8 91.0,136.0 90.7,136.1 C90.3,136.2 89.8,136.1 89.5,135.9 C89.2,135.7 88.9,135.2 88.8,134.9 C88.7,134.5 88.8,134.0 88.9,133.5 C89.0,133.1 89.1,132.6 89.3,132.2 C89.5,131.9 89.8,131.5 90.2,131.4Z" fill="#30f0a0"/><path d="M90.4,132.4 C90.5,132.4 90.8,132.4 91.0,132.5 C91.1,132.6 91.2,132.7 91.3,132.9 C91.4,133.0 91.5,133.2 91.5,133.4 C91.6,133.6 91.6,133.8 91.5,134.0 C91.4,134.2 91.4,134.4 91.2,134.5 C91.1,134.6 90.8,134.8 90.6,134.8 C90.4,134.8 90.2,134.8 90.0,134.7 C89.9,134.6 89.8,134.4 89.7,134.2 C89.7,134.0 89.7,133.7 89.8,133.5 C89.8,133.3 89.9,133.0 90.0,132.9 C90.1,132.7 90.2,132.5 90.4,132.4Z" fill="#40f040"/></g>
<g filter="url(#blur1)"><path d="M171.2,123.4 C172.4,123.3 174.3,124.1 175.4,125.0 C176.5,125.9 177.1,127.1 177.8,128.7 C178.6,130.3 179.7,132.7 179.9,134.5 C180.1,136.3 179.8,138.1 179.1,139.5 C178.3,140.9 176.8,142.2 175.4,142.8 C174.0,143.4 171.9,143.6 170.4,143.2 C168.9,142.8 167.2,141.6 166.3,140.3 C165.4,139.0 165.0,137.2 165.0,135.4 C165.0,133.6 165.8,131.3 166.3,129.6 C166.9,127.9 167.5,126.4 168.3,125.4 C169.1,124.4 170.0,123.5 171.2,123.4Z" fill="#d018e0"/><path d="M171.3,124.5 C172.3,124.5 174.0,125.2 175.0,125.9 C176.0,126.7 176.4,127.8 177.1,129.2 C177.8,130.6 178.8,132.7 179.0,134.3 C179.1,135.9 178.9,137.5 178.2,138.7 C177.6,139.9 176.3,141.1 175.0,141.6 C173.7,142.2 171.9,142.3 170.6,142.0 C169.3,141.6 167.8,140.6 167.0,139.4 C166.2,138.3 165.8,136.7 165.8,135.1 C165.8,133.5 166.5,131.5 167.0,130.0 C167.5,128.5 168.0,127.2 168.7,126.3 C169.5,125.4 170.3,124.6 171.3,124.5Z" fill="#6018f0"/><path d="M171.4,125.5 C172.3,125.4 173.8,126.0 174.7,126.7 C175.5,127.4 175.9,128.4 176.5,129.6 C177.1,130.9 178.0,132.7 178.2,134.1 C178.3,135.6 178.1,137.0 177.5,138.0 C177.0,139.1 175.8,140.1 174.7,140.6 C173.5,141.1 171.9,141.3 170.8,140.9 C169.6,140.6 168.3,139.7 167.6,138.7 C166.9,137.7 166.5,136.2 166.5,134.8 C166.5,133.5 167.1,131.6 167.6,130.3 C168.0,129.0 168.5,127.9 169.1,127.1 C169.8,126.2 170.5,125.5 171.4,125.5Z" fill="#2028ff"/><path d="M171.5,126.7 C172.2,126.7 173.5,127.2 174.2,127.8 C174.9,128.3 175.3,129.1 175.8,130.2 C176.3,131.2 177.0,132.8 177.1,133.9 C177.3,135.1 177.1,136.3 176.6,137.2 C176.1,138.1 175.2,138.9 174.2,139.3 C173.3,139.7 171.9,139.9 171.0,139.6 C170.0,139.3 168.9,138.6 168.3,137.7 C167.7,136.9 167.4,135.7 167.4,134.5 C167.4,133.4 167.9,131.8 168.3,130.8 C168.7,129.7 169.1,128.7 169.6,128.0 C170.1,127.4 170.7,126.8 171.5,126.7Z" fill="#20d0f0"/><path d="M171.6,127.6 C172.2,127.5 173.3,128.0 173.9,128.5 C174.5,129.0 174.8,129.7 175.2,130.5 C175.7,131.4 176.3,132.8 176.4,133.8 C176.5,134.8 176.4,135.8 176.0,136.6 C175.6,137.4 174.7,138.1 173.9,138.4 C173.1,138.8 172.0,138.9 171.1,138.7 C170.3,138.4 169.3,137.8 168.8,137.0 C168.3,136.3 168.1,135.3 168.1,134.3 C168.1,133.3 168.5,132.0 168.8,131.1 C169.1,130.1 169.5,129.3 169.9,128.7 C170.4,128.1 170.9,127.6 171.6,127.6Z" fill="#30f0a0"/><path d="M171.6,128.3 C172.2,128.3 173.1,128.7 173.6,129.1 C174.2,129.5 174.4,130.1 174.8,130.9 C175.1,131.6 175.7,132.8 175.8,133.7 C175.9,134.5 175.8,135.4 175.4,136.1 C175.0,136.7 174.3,137.4 173.6,137.7 C172.9,137.9 172.0,138.0 171.2,137.8 C170.5,137.6 169.7,137.1 169.3,136.5 C168.8,135.8 168.6,135.0 168.6,134.1 C168.6,133.2 169.0,132.1 169.3,131.3 C169.5,130.5 169.8,129.8 170.2,129.3 C170.6,128.8 171.0,128.4 171.6,128.3Z" fill="#50f030"/><path d="M171.7,129.1 C172.2,129.1 172.9,129.4 173.4,129.7 C173.8,130.1 174.0,130.6 174.3,131.2 C174.6,131.9 175.1,132.8 175.2,133.5 C175.2,134.3 175.1,135.0 174.8,135.5 C174.5,136.1 173.9,136.6 173.4,136.9 C172.8,137.1 172.0,137.2 171.4,137.0 C170.8,136.9 170.1,136.4 169.7,135.9 C169.4,135.3 169.2,134.6 169.2,133.9 C169.2,133.2 169.5,132.2 169.7,131.6 C169.9,130.9 170.2,130.3 170.5,129.9 C170.8,129.5 171.2,129.1 171.7,129.1Z" fill="#f0e020"/><path d="M171.7,129.8 C172.1,129.7 172.8,130.0 173.1,130.3 C173.5,130.6 173.7,131.0 173.9,131.5 C174.2,132.0 174.5,132.8 174.6,133.4 C174.7,134.0 174.6,134.6 174.3,135.1 C174.1,135.5 173.6,136.0 173.1,136.2 C172.6,136.4 172.0,136.4 171.5,136.3 C171.0,136.2 170.4,135.8 170.1,135.3 C169.8,134.9 169.7,134.3 169.7,133.7 C169.7,133.1 169.9,132.4 170.1,131.8 C170.3,131.3 170.5,130.8 170.8,130.4 C171.0,130.1 171.3,129.8 171.7,129.8Z" fill="#f8b040"/><path d="M171.8,130.3 C172.1,130.3 172.6,130.5 172.9,130.8 C173.2,131.0 173.4,131.3 173.6,131.8 C173.8,132.2 174.1,132.8 174.1,133.3 C174.2,133.8 174.1,134.3 173.9,134.7 C173.7,135.1 173.3,135.4 172.9,135.6 C172.5,135.7 172.0,135.8 171.6,135.7 C171.2,135.6 170.7,135.2 170.5,134.9 C170.2,134.5 170.1,134.1 170.1,133.6 C170.1,133.1 170.3,132.5 170.5,132.0 C170.6,131.6 170.8,131.2 171.0,130.9 C171.2,130.6 171.5,130.4 171.8,130.3Z" fill="#fff4d0"/><path d="M171.8,131.0 C172.1,131.0 172.5,131.1 172.7,131.3 C172.9,131.5 173.0,131.7 173.2,132.1 C173.3,132.4 173.5,132.9 173.6,133.2 C173.6,133.6 173.6,133.9 173.4,134.2 C173.3,134.5 173.0,134.8 172.7,134.9 C172.4,135.0 172.0,135.0 171.7,135.0 C171.4,134.9 171.0,134.6 170.9,134.4 C170.7,134.1 170.6,133.8 170.6,133.4 C170.6,133.0 170.8,132.6 170.9,132.2 C171.0,131.9 171.1,131.6 171.3,131.4 C171.4,131.2 171.6,131.0 171.8,131.0Z" fill="#ffffff"/></g>
</g>
<rect x="213" y="5" width="54" height="72" fill="#f6f6f6"/>
<defs><linearGradient id="cbA" x1="0" y1="0" x2="0" y2="1">
<stop offset="0" stop-color="#ff1a1a"/><stop offset="0.12" stop-color="#ff7a10"/><stop offset="0.24" stop-color="#f8f010"/><stop offset="0.36" stop-color="#90f020"/><stop offset="0.48" stop-color="#10f040"/><stop offset="0.6" stop-color="#10f0e0"/><stop offset="0.72" stop-color="#1080ff"/><stop offset="0.84" stop-color="#2010ff"/><stop offset="0.93" stop-color="#9010f0"/><stop offset="1" stop-color="#e020e0"/></linearGradient></defs>
<rect x="217.3" y="5.8" width="7.2" height="69" fill="url(#cbA)"/>
<text x="226" y="9.6" font-size="3.9" fill="#1a1a1a" stroke="#1a1a1a" stroke-width="0.08" font-family="Liberation Sans, Arial, sans-serif">1.0e+005 P/sec/cm/sq</text>
<text x="226" y="30.2" font-size="3.9" fill="#1a1a1a" stroke="#1a1a1a" stroke-width="0.08" font-family="Liberation Sans, Arial, sans-serif">7.0e+004 P/sec/cm/sq</text>
<text x="226" y="53.9" font-size="3.9" fill="#1a1a1a" stroke="#1a1a1a" stroke-width="0.08" font-family="Liberation Sans, Arial, sans-serif">4.0e+004 P/sec/cm/sq</text>
<text x="226" y="74.9" font-size="3.9" fill="#1a1a1a" stroke="#1a1a1a" stroke-width="0.08" font-family="Liberation Sans, Arial, sans-serif">1.0e+004 P/sec/cm/sq</text>
<defs>
<filter id="grain" x="0" y="0" width="100%" height="100%"><feTurbulence type="fractalNoise" baseFrequency="0.9" numOctaves="1" seed="3" result="n"/><feColorMatrix in="n" type="matrix" values="0.33 0.33 0.33 0 0  0.33 0.33 0.33 0 0  0.33 0.33 0.33 0 0  0 0 0 0 1" result="g"/><feComposite in="SourceGraphic" in2="g" operator="arithmetic" k1="1.1" k2="0.45" k3="0" k4="0"/></filter>
<filter id="dblur" x="-10%" y="-10%" width="120%" height="120%"><feGaussianBlur stdDeviation="0.35"/></filter>
<filter id="lblur" x="-50%" y="-50%" width="200%" height="200%"><feGaussianBlur stdDeviation="0.8"/></filter>
<filter id="bblur" x="-50%" y="-50%" width="200%" height="200%"><feGaussianBlur stdDeviation="0.7"/></filter>
<filter id="haze" x="-50%" y="-50%" width="200%" height="200%"><feGaussianBlur stdDeviation="2.2"/></filter>
<radialGradient id="hot1" cx="0.5" cy="0.5" r="0.5"><stop offset="0" stop-color="#ffffe8"/><stop offset="0.3" stop-color="#fff050"/><stop offset="0.55" stop-color="#ffa020"/><stop offset="0.8" stop-color="#f03020"/><stop offset="1" stop-color="#e01060" stop-opacity="0"/></radialGradient>
<radialGradient id="hot2" cx="0.5" cy="0.5" r="0.5"><stop offset="0" stop-color="#ffa040"/><stop offset="0.4" stop-color="#ff5028"/><stop offset="0.75" stop-color="#f02040"/><stop offset="1" stop-color="#e01070" stop-opacity="0"/></radialGradient>
<radialGradient id="hot3" cx="0.5" cy="0.5" r="0.5"><stop offset="0" stop-color="#ffff90"/><stop offset="0.35" stop-color="#ffc828"/><stop offset="0.65" stop-color="#ff6018"/><stop offset="0.85" stop-color="#f02030"/><stop offset="1" stop-color="#e01060" stop-opacity="0"/></radialGradient>
<radialGradient id="halo" cx="0.5" cy="0.5" r="0.5"><stop offset="0" stop-color="#c010d0"/><stop offset="0.55" stop-color="#b010e0"/><stop offset="0.8" stop-color="#5010d0" stop-opacity="0.8"/><stop offset="1" stop-color="#2010a0" stop-opacity="0"/></radialGradient>
<linearGradient id="greybar" x1="0" y1="0" x2="0" y2="1"><stop offset="0" stop-color="#d6d6d6"/><stop offset="0.5" stop-color="#9a9a9a"/><stop offset="1" stop-color="#383838"/></linearGradient>
<linearGradient id="hotbar" x1="0" y1="0" x2="0" y2="1">
<stop offset="0" stop-color="#ffffff"/><stop offset="0.07" stop-color="#ffff70"/><stop offset="0.16" stop-color="#ffee00"/><stop offset="0.3" stop-color="#ffb000"/><stop offset="0.43" stop-color="#ff6a00"/><stop offset="0.52" stop-color="#f02a20"/><stop offset="0.6" stop-color="#e01070"/><stop offset="0.68" stop-color="#b010d8"/><stop offset="0.76" stop-color="#7010e8"/><stop offset="0.86" stop-color="#3010b0"/><stop offset="0.94" stop-color="#100850"/><stop offset="1" stop-color="#000010"/></linearGradient>
<clipPath id="cb1"><rect x="341.5" y="6.1" width="52.3" height="179.8"/></clipPath>
<clipPath id="cb2"><rect x="397.2" y="6.1" width="58" height="179.8"/></clipPath>
<clipPath id="cb3"><rect x="459.1" y="6.1" width="54.5" height="179.8"/></clipPath>
</defs>
<rect x="341.5" y="6.1" width="52.3" height="179.8" fill="#000"/>
<g clip-path="url(#cb1)"><g filter="url(#grain)">
<ellipse cx="368" cy="112" rx="20" ry="10" fill="#1a1a90" opacity="0.3" filter="url(#haze)"/>
<g filter="url(#dblur)"><circle cx="374.3" cy="121.0" r="1.24" fill="#2020c0" opacity="0.74"/><circle cx="381.5" cy="103.7" r="0.64" fill="#3018d0" opacity="0.45"/><circle cx="367.0" cy="103.6" r="1.04" fill="#3018d0" opacity="0.41"/><circle cx="355.2" cy="104.8" r="1.33" fill="#4020e0" opacity="0.46"/><circle cx="382.5" cy="99.9" r="1.09" fill="#3018d0" opacity="0.45"/><circle cx="390.7" cy="95.2" r="1.22" fill="#3018d0" opacity="0.75"/><circle cx="358.6" cy="128.7" r="1.03" fill="#3018d0" opacity="0.47"/><circle cx="390.5" cy="101.9" r="1.37" fill="#4020e0" opacity="0.52"/><circle cx="362.0" cy="100.8" r="0.72" fill="#2020c0" opacity="0.53"/><circle cx="383.4" cy="115.5" r="1.08" fill="#1a1aa0" opacity="0.43"/><circle cx="361.7" cy="105.7" r="1.16" fill="#3018d0" opacity="0.59"/><circle cx="378.1" cy="97.0" r="1.38" fill="#2020c0" opacity="0.78"/><circle cx="361.8" cy="109.2" r="1.04" fill="#4020e0" opacity="0.55"/><circle cx="372.2" cy="95.3" r="0.64" fill="#3018d0" opacity="0.65"/><circle cx="389.9" cy="99.2" r="0.80" fill="#4020e0" opacity="0.54"/><circle cx="361.7" cy="113.4" r="1.22" fill="#2020c0" opacity="0.64"/><circle cx="381.7" cy="107.9" r="0.84" fill="#4020e0" opacity="0.78"/><circle cx="349.3" cy="106.9" r="1.09" fill="#3018d0" opacity="0.54"/><circle cx="388.4" cy="114.1" r="0.85" fill="#1a1aa0" opacity="0.52"/><circle cx="382.5" cy="116.9" r="1.18" fill="#1a1aa0" opacity="0.80"/><circle cx="352.6" cy="96.7" r="1.39" fill="#4020e0" opacity="0.41"/><circle cx="379.8" cy="107.0" r="0.80" fill="#4020e0" opacity="0.46"/><circle cx="391.0" cy="117.3" r="1.24" fill="#1a1aa0" opacity="0.74"/><circle cx="351.1" cy="120.6" r="1.36" fill="#4020e0" opacity="0.44"/><circle cx="365.4" cy="100.2" r="1.28" fill="#1a1aa0" opacity="0.46"/><circle cx="388.3" cy="116.7" r="0.74" fill="#4020e0" opacity="0.78"/><circle cx="377.4" cy="106.1" r="0.82" fill="#4020e0" opacity="0.56"/><circle cx="351.9" cy="108.2" r="1.39" fill="#3018d0" opacity="0.65"/><circle cx="368.5" cy="106.8" r="0.67" fill="#1a1aa0" opacity="0.61"/><circle cx="370.8" cy="112.6" r="0.65" fill="#1a1aa0" opacity="0.68"/><circle cx="376.2" cy="121.6" r="0.89" fill="#1a1aa0" opacity="0.73"/><circle cx="357.4" cy="129.3" r="1.17" fill="#1a1aa0" opacity="0.66"/><circle cx="372.3" cy="95.4" r="1.04" fill="#1a1aa0" opacity="0.53"/><circle cx="357.9" cy="105.1" r="1.00" fill="#1a1aa0" opacity="0.54"/><circle cx="375.3" cy="120.8" r="1.26" fill="#1a1aa0" opacity="0.77"/><circle cx="353.1" cy="125.3" r="0.96" fill="#1a1aa0" opacity="0.78"/><circle cx="369.4" cy="113.5" r="0.73" fill="#1a1aa0" opacity="0.77"/><circle cx="367.4" cy="119.2" r="1.18" fill="#4020e0" opacity="0.47"/><circle cx="381.7" cy="115.3" r="1.13" fill="#4020e0" opacity="0.52"/><circle cx="371.0" cy="125.3" r="0.82" fill="#2020c0" opacity="0.48"/></g>
<g filter="url(#dblur)"><circle cx="385.0" cy="45.0" r="0.74" fill="#3018d0" opacity="0.65"/><circle cx="375.7" cy="38.9" r="0.78" fill="#2020c0" opacity="0.76"/><circle cx="376.9" cy="58.7" r="0.99" fill="#2020c0" opacity="0.57"/><circle cx="381.0" cy="46.5" r="0.66" fill="#3018d0" opacity="0.50"/><circle cx="390.4" cy="20.0" r="0.92" fill="#1a1aa0" opacity="0.74"/><circle cx="389.7" cy="47.6" r="1.04" fill="#2020c0" opacity="0.62"/><circle cx="380.1" cy="31.8" r="1.01" fill="#1a1aa0" opacity="0.78"/><circle cx="388.9" cy="36.8" r="1.25" fill="#1a1aa0" opacity="0.59"/><circle cx="377.7" cy="35.3" r="0.98" fill="#3018d0" opacity="0.79"/><circle cx="385.3" cy="34.0" r="1.31" fill="#2020c0" opacity="0.55"/><circle cx="380.5" cy="56.7" r="1.03" fill="#1a1aa0" opacity="0.65"/><circle cx="390.2" cy="35.0" r="0.95" fill="#3018d0" opacity="0.60"/></g>
<g filter="url(#dblur)"><circle cx="367.5" cy="174.8" r="0.91" fill="#3018d0" opacity="0.64"/><circle cx="357.2" cy="184.3" r="1.00" fill="#4020e0" opacity="0.41"/><circle cx="389.4" cy="160.8" r="1.34" fill="#3018d0" opacity="0.59"/><circle cx="350.7" cy="171.8" r="0.95" fill="#1a1aa0" opacity="0.42"/><circle cx="351.4" cy="163.7" r="0.98" fill="#1a1aa0" opacity="0.50"/><circle cx="367.3" cy="151.3" r="0.99" fill="#3018d0" opacity="0.69"/><circle cx="358.4" cy="167.2" r="1.39" fill="#2020c0" opacity="0.41"/><circle cx="350.9" cy="159.9" r="1.17" fill="#1a1aa0" opacity="0.69"/><circle cx="346.3" cy="162.2" r="1.15" fill="#3018d0" opacity="0.41"/><circle cx="356.9" cy="165.9" r="1.33" fill="#3018d0" opacity="0.41"/></g>
<path d="M358,56 L374,56 L386,96 L382,104 L350,104 L346,96Z" fill="#2c2c2c" filter="url(#haze)"/>
<path d="M364.5,57.0 Q362.0,58.4 358.0,61.4" fill="none" stroke="#9c9c9c" stroke-width="0.75"/><path d="M367.5,57.0 Q370.0,58.4 374.0,61.4" fill="none" stroke="#9c9c9c" stroke-width="0.75"/><path d="M364.5,60.2 Q361.6,61.8 357.1,65.1" fill="none" stroke="#9c9c9c" stroke-width="0.75"/><path d="M367.5,60.2 Q370.5,61.8 375.0,65.2" fill="none" stroke="#9c9c9c" stroke-width="0.75"/><path d="M364.5,63.4 Q361.1,65.2 356.2,68.8" fill="none" stroke="#9c9c9c" stroke-width="0.75"/><path d="M367.5,63.4 Q371.0,65.2 376.0,68.9" fill="none" stroke="#9c9c9c" stroke-width="0.75"/><path d="M364.5,66.6 Q360.6,68.5 355.3,72.5" fill="none" stroke="#9c9c9c" stroke-width="0.75"/><path d="M367.5,66.6 Q371.5,68.6 377.0,72.6" fill="none" stroke="#9c9c9c" stroke-width="0.75"/><path d="M364.5,69.8 Q360.2,71.9 354.4,76.2" fill="none" stroke="#9c9c9c" stroke-width="0.75"/><path d="M367.5,69.8 Q372.0,72.0 378.0,76.4" fill="none" stroke="#9c9c9c" stroke-width="0.75"/><path d="M364.5,73.0 Q359.8,75.2 353.5,79.9" fill="none" stroke="#9c9c9c" stroke-width="0.75"/><path d="M367.5,73.0 Q372.5,75.3 379.0,80.2" fill="none" stroke="#9c9c9c" stroke-width="0.75"/><path d="M364.5,76.2 Q359.3,78.6 352.6,83.6" fill="none" stroke="#9c9c9c" stroke-width="0.75"/><path d="M367.5,76.2 Q373.0,78.7 380.0,83.9" fill="none" stroke="#9c9c9c" stroke-width="0.75"/><path d="M364.5,79.4 Q358.9,82.0 351.7,87.3" fill="none" stroke="#9c9c9c" stroke-width="0.75"/><path d="M367.5,79.4 Q373.5,82.1 381.0,87.7" fill="none" stroke="#9c9c9c" stroke-width="0.75"/><path d="M364.5,82.6 Q358.4,85.3 350.8,91.0" fill="none" stroke="#9c9c9c" stroke-width="0.75"/><path d="M367.5,82.6 Q374.0,85.5 382.0,91.4" fill="none" stroke="#9c9c9c" stroke-width="0.75"/><path d="M364.5,85.8 Q357.9,88.7 349.9,94.7" fill="none" stroke="#9c9c9c" stroke-width="0.75"/><path d="M367.5,85.8 Q374.5,88.9 383.0,95.2" fill="none" stroke="#9c9c9c" stroke-width="0.75"/><path d="M364.5,89.0 Q357.5,92.1 349.0,98.3" fill="none" stroke="#9c9c9c" stroke-width="0.75"/><path d="M367.5,89.0 Q375.0,92.2 384.0,98.9" fill="none" stroke="#9c9c9c" stroke-width="0.75"/>
<path d="M366.5,44.0 C366.4,48.3 366.2,60.7 366.0,70.0 C365.8,79.3 365.6,90.8 365.5,100.0 C365.4,109.2 365.4,117.3 365.5,125.0 C365.6,132.7 365.9,142.5 366.0,146.0" fill="none" stroke="#6e6e6e" stroke-width="3.6"/><path d="M366.5,44.0 C366.4,48.3 366.2,60.7 366.0,70.0 C365.8,79.3 365.6,90.8 365.5,100.0 C365.4,109.2 365.4,117.3 365.5,125.0 C365.6,132.7 365.9,142.5 366.0,146.0" fill="none" stroke="#a4a4a4" stroke-width="2.6" stroke-dasharray="1.2 1.0"/><path d="M366.5,44.0 C366.4,48.3 366.2,60.7 366.0,70.0 C365.8,79.3 365.6,90.8 365.5,100.0 C365.4,109.2 365.4,117.3 365.5,125.0 C365.6,132.7 365.9,142.5 366.0,146.0" fill="none" stroke="#8a8a8a" stroke-width="0.8"/>
<path d="M360.0,51.0 C359.2,52.5 357.0,56.7 355.0,60.0 C353.0,63.3 349.2,69.2 348.0,71.0" fill="none" stroke="#c8c8c8" stroke-width="2.8" stroke-linecap="round" opacity="1.0"/>
<path d="M374.0,51.0 C375.0,52.5 377.7,56.7 380.0,60.0 C382.3,63.3 386.7,69.2 388.0,71.0" fill="none" stroke="#c8c8c8" stroke-width="2.8" stroke-linecap="round" opacity="1.0"/>
<path d="M357.0,50.0 C358.0,50.7 360.8,53.3 363.0,54.0 C365.2,54.7 367.7,54.7 370.0,54.0 C372.3,53.3 375.8,50.7 377.0,50.0" fill="none" stroke="#a8a8a8" stroke-width="2.4" stroke-linecap="round" opacity="1.0"/>
<path d="M358.0,126.0 C357.7,128.3 355.3,135.7 356.0,140.0 C356.7,144.3 360.3,149.0 362.0,152.0 C363.7,155.0 365.3,157.0 366.0,158.0" fill="none" stroke="#a0a0a0" stroke-width="1.6" stroke-linecap="round" opacity="1.0"/>
<path d="M375.0,128.0 C375.2,130.0 376.8,136.0 376.0,140.0 C375.2,144.0 371.7,149.0 370.0,152.0 C368.3,155.0 366.7,157.0 366.0,158.0" fill="none" stroke="#a0a0a0" stroke-width="1.6" stroke-linecap="round" opacity="1.0"/>
<path d="M353.0,149.0 C353.5,151.2 354.8,157.7 356.0,162.0 C357.2,166.3 358.8,170.8 360.0,175.0 C361.2,179.2 362.5,185.0 363.0,187.0" fill="none" stroke="#a4a4a4" stroke-width="6" stroke-linecap="round" opacity="0.9"/>
<path d="M378.0,152.0 C377.5,153.8 376.2,159.2 375.0,163.0 C373.8,166.8 372.2,171.0 371.0,175.0 C369.8,179.0 368.5,185.0 368.0,187.0" fill="none" stroke="#a4a4a4" stroke-width="5.5" stroke-linecap="round" opacity="0.9"/>
<path d="M353.0,149.0 C353.5,151.2 354.8,157.7 356.0,162.0 C357.2,166.3 358.8,170.8 360.0,175.0 C361.2,179.2 362.5,185.0 363.0,187.0" fill="none" stroke="#d0d0d0" stroke-width="2.2" stroke-linecap="round" opacity="1.0"/>
<path d="M378.0,152.0 C377.5,153.8 376.2,159.2 375.0,163.0 C373.8,166.8 372.2,171.0 371.0,175.0 C369.8,179.0 368.5,185.0 368.0,187.0" fill="none" stroke="#d0d0d0" stroke-width="2.0" stroke-linecap="round" opacity="1.0"/>
<path d="M349.0,121.0 C349.2,123.3 349.9,130.3 350.5,135.0 C351.1,139.7 352.2,146.7 352.5,149.0" fill="none" stroke="#c8c8c8" stroke-width="4.6" stroke-linecap="round" opacity="1.0"/>
<path d="M383.5,127.0 C383.1,129.2 381.9,135.8 381.0,140.0 C380.1,144.2 378.5,150.0 378.0,152.0" fill="none" stroke="#c4c4c4" stroke-width="4.2" stroke-linecap="round" opacity="1.0"/>
<path d="M356,172 L375,172 L373,187 L358,187Z" fill="#b8b8b8" opacity="0.6"/>
<path d="M366.0,150.0 C366.0,156.2 366.0,180.8 366.0,187.0" fill="none" stroke="#b0b0b0" stroke-width="2.0" stroke-linecap="round" opacity="1.0"/>
<g transform="rotate(0 367.2 29.8)"><ellipse cx="367.2" cy="48.8" rx="11.8" ry="7" fill="#5e5e5e"/><ellipse cx="367.2" cy="47.8" rx="6.5" ry="5.5" fill="#808080"/><ellipse cx="367.2" cy="38.8" rx="10.4" ry="9.4" fill="#9c9c9c"/><path d="M364.8,11.8 Q367.2,9.8 369.6,11.8 L372.0,20.8 L362.4,20.8Z" fill="#c0c0c0"/><ellipse cx="367.2" cy="29.8" rx="11.0" ry="11.2" fill="#787878" stroke="#e6e6e6" stroke-width="1.8"/><ellipse cx="360.9" cy="30.4" rx="3.5" ry="7.2" fill="#1e1e1e"/><ellipse cx="373.5" cy="30.4" rx="3.5" ry="7.2" fill="#1e1e1e"/><path d="M365.6,12.3 L364.8,36.4 L367.2,34.0 L369.6,36.4 L368.8,12.3Z" fill="#b0b0b0"/><path d="M366.2,12.3 L364.8,36.4 M368.2,12.3 L369.6,36.4" stroke="#f4f4f4" stroke-width="1.3" fill="none"/><path d="M358.9,40.0 Q367.2,45.4 375.5,40.0" stroke="#b8b8b8" stroke-width="1" fill="none"/></g>
<path d="M380.0,36.0 C380.5,36.7 382.7,38.3 383.0,40.0 C383.3,41.7 382.2,45.0 382.0,46.0" fill="none" stroke="#9a9a9a" stroke-width="2.0" stroke-linecap="round" opacity="1.0"/>
<g transform="rotate(10 365.5 143.8)"><ellipse cx="365.5" cy="143.8" rx="7.36" ry="9.18" fill="url(#halo)" filter="url(#bblur)"/><g filter="url(#lblur)"><ellipse cx="366.5" cy="141.20000000000002" rx="4.2" ry="4.4" fill="url(#hot1)"/><ellipse cx="364.7" cy="146.20000000000002" rx="4.2" ry="4.6" fill="url(#hot1)"/></g></g>
<g transform="rotate(0 380.6 150.2)"><ellipse cx="380.6" cy="150.2" rx="8.28" ry="10.75" fill="url(#halo)" filter="url(#bblur)"/><g filter="url(#lblur)"><ellipse cx="380.6" cy="146.2" rx="4" ry="3.6" fill="url(#hot2)"/><ellipse cx="381.40000000000003" cy="150.6" rx="4.4" ry="3.6" fill="url(#hot2)"/><ellipse cx="379.8" cy="154.6" rx="4" ry="3.4" fill="url(#hot2)"/></g></g>
</g></g>
<text x="380.6" y="14.8" font-size="7.1" font-weight="bold" fill="#fff" font-family="Liberation Sans, Arial, sans-serif">4h</text>
<rect x="397.2" y="6.1" width="58" height="179.8" fill="#000"/>
<g clip-path="url(#cb2)"><g filter="url(#grain)">
<g filter="url(#dblur)"><circle cx="450.9" cy="95.7" r="1.06" fill="#5020e0" opacity="0.74"/><circle cx="451.8" cy="98.5" r="1.15" fill="#3018d0" opacity="0.76"/><circle cx="446.5" cy="115.5" r="0.84" fill="#3018d0" opacity="0.68"/><circle cx="446.1" cy="87.2" r="1.22" fill="#5020e0" opacity="0.46"/><circle cx="446.7" cy="102.9" r="1.00" fill="#5020e0" opacity="0.62"/><circle cx="446.0" cy="102.5" r="0.64" fill="#3018d0" opacity="0.51"/></g>
<circle cx="449.5" cy="80" r="1.3" fill="#ff8020"/><circle cx="449.5" cy="80" r="2.2" fill="#c020c0" opacity="0.5"/>
<circle cx="449" cy="87.5" r="1.1" fill="#6020d0"/><circle cx="445.2" cy="28.6" r="1.0" fill="#c020d0"/>
<path d="M419,60 L435,60 L445,98 L441,106 L413,106 L409,98Z" fill="#2c2c2c" filter="url(#haze)"/>
<path d="M425.5,62.0 Q423.0,63.4 419.0,66.4" fill="none" stroke="#9c9c9c" stroke-width="0.75"/><path d="M428.5,62.0 Q431.0,63.4 435.0,66.4" fill="none" stroke="#9c9c9c" stroke-width="0.75"/><path d="M425.5,65.1 Q422.6,66.7 418.2,69.9" fill="none" stroke="#9c9c9c" stroke-width="0.75"/><path d="M428.5,65.1 Q431.4,66.7 435.8,69.9" fill="none" stroke="#9c9c9c" stroke-width="0.75"/><path d="M425.5,68.2 Q422.2,69.9 417.4,73.5" fill="none" stroke="#9c9c9c" stroke-width="0.75"/><path d="M428.5,68.2 Q431.8,69.9 436.6,73.5" fill="none" stroke="#9c9c9c" stroke-width="0.75"/><path d="M425.5,71.3 Q421.8,73.2 416.6,77.0" fill="none" stroke="#9c9c9c" stroke-width="0.75"/><path d="M428.5,71.3 Q432.2,73.2 437.4,77.0" fill="none" stroke="#9c9c9c" stroke-width="0.75"/><path d="M425.5,74.4 Q421.4,76.4 415.8,80.6" fill="none" stroke="#9c9c9c" stroke-width="0.75"/><path d="M428.5,74.4 Q432.6,76.4 438.2,80.6" fill="none" stroke="#9c9c9c" stroke-width="0.75"/><path d="M425.5,77.5 Q421.0,79.7 415.0,84.1" fill="none" stroke="#9c9c9c" stroke-width="0.75"/><path d="M428.5,77.5 Q433.0,79.7 439.0,84.1" fill="none" stroke="#9c9c9c" stroke-width="0.75"/><path d="M425.5,80.6 Q420.6,82.9 414.2,87.6" fill="none" stroke="#9c9c9c" stroke-width="0.75"/><path d="M428.5,80.6 Q433.4,82.9 439.8,87.6" fill="none" stroke="#9c9c9c" stroke-width="0.75"/><path d="M425.5,83.7 Q420.2,86.1 413.4,91.2" fill="none" stroke="#9c9c9c" stroke-width="0.75"/><path d="M428.5,83.7 Q433.8,86.1 440.6,91.2" fill="none" stroke="#9c9c9c" stroke-width="0.75"/><path d="M425.5,86.8 Q419.8,89.4 412.6,94.7" fill="none" stroke="#9c9c9c" stroke-width="0.75"/><path d="M428.5,86.8 Q434.2,89.4 441.4,94.7" fill="none" stroke="#9c9c9c" stroke-width="0.75"/><path d="M425.5,89.9 Q419.4,92.6 411.8,98.3" fill="none" stroke="#9c9c9c" stroke-width="0.75"/><path d="M428.5,89.9 Q434.6,92.6 442.2,98.3" fill="none" stroke="#9c9c9c" stroke-width="0.75"/><path d="M425.5,93.0 Q419.0,95.9 411.0,101.8" fill="none" stroke="#9c9c9c" stroke-width="0.75"/><path d="M428.5,93.0 Q435.0,95.9 443.0,101.8" fill="none" stroke="#9c9c9c" stroke-width="0.75"/>
<path d="M427.0,48.0 C427.0,53.3 427.0,69.7 427.0,80.0 C427.0,90.3 426.9,100.0 427.0,110.0 C427.1,120.0 427.3,133.0 427.5,140.0 C427.7,147.0 427.9,150.0 428.0,152.0" fill="none" stroke="#6e6e6e" stroke-width="3.6"/><path d="M427.0,48.0 C427.0,53.3 427.0,69.7 427.0,80.0 C427.0,90.3 426.9,100.0 427.0,110.0 C427.1,120.0 427.3,133.0 427.5,140.0 C427.7,147.0 427.9,150.0 428.0,152.0" fill="none" stroke="#a4a4a4" stroke-width="2.6" stroke-dasharray="1.2 1.0"/><path d="M427.0,48.0 C427.0,53.3 427.0,69.7 427.0,80.0 C427.0,90.3 426.9,100.0 427.0,110.0 C427.1,120.0 427.3,133.0 427.5,140.0 C427.7,147.0 427.9,150.0 428.0,152.0" fill="none" stroke="#8a8a8a" stroke-width="0.8"/>
<path d="M413.0,52.0 C412.7,54.2 411.6,60.8 411.0,65.0 C410.4,69.2 409.8,75.0 409.5,77.0" fill="none" stroke="#c8c8c8" stroke-width="2.6" stroke-linecap="round" opacity="1.0"/>
<path d="M438.0,54.0 C438.7,56.0 440.8,62.2 442.0,66.0 C443.2,69.8 444.5,75.2 445.0,77.0" fill="none" stroke="#c8c8c8" stroke-width="2.6" stroke-linecap="round" opacity="1.0"/>
<path d="M413.0,52.0 C414.2,52.7 416.5,55.3 420.0,56.0 C423.5,56.7 431.0,56.3 434.0,56.0 C437.0,55.7 437.3,54.3 438.0,54.0" fill="none" stroke="#a8a8a8" stroke-width="2.4" stroke-linecap="round" opacity="1.0"/>
<path d="M410.0,43.0 C410.1,43.8 410.2,46.3 410.5,48.0 C410.8,49.7 411.8,52.2 412.0,53.0" fill="none" stroke="#bcbcbc" stroke-width="2.2" stroke-linecap="round" opacity="1.0"/>
<path d="M407,41 L409,38 L412,40 L413,45 L408,46Z" fill="#a0a0a0"/>
<path d="M418.0,128.0 C417.7,130.3 415.3,137.7 416.0,142.0 C416.7,146.3 420.2,151.0 422.0,154.0 C423.8,157.0 426.2,159.0 427.0,160.0" fill="none" stroke="#a0a0a0" stroke-width="1.6" stroke-linecap="round" opacity="1.0"/>
<path d="M436.0,128.0 C436.3,130.3 438.7,137.7 438.0,142.0 C437.3,146.3 433.8,151.0 432.0,154.0 C430.2,157.0 427.8,159.0 427.0,160.0" fill="none" stroke="#a0a0a0" stroke-width="1.6" stroke-linecap="round" opacity="1.0"/>
<path d="M412.3,158.0 C412.8,159.3 413.9,163.0 415.0,166.0 C416.1,169.0 417.8,172.5 419.0,176.0 C420.2,179.5 421.5,185.2 422.0,187.0" fill="none" stroke="#a4a4a4" stroke-width="5.5" stroke-linecap="round" opacity="0.9"/>
<path d="M440.0,158.0 C439.3,159.2 437.8,163.0 436.0,165.0 C434.2,167.0 431.2,168.5 429.0,170.0 C426.8,171.5 424.0,173.3 423.0,174.0" fill="none" stroke="#a4a4a4" stroke-width="5" stroke-linecap="round" opacity="0.9"/>
<path d="M412.3,158.0 C412.8,159.3 413.9,163.0 415.0,166.0 C416.1,169.0 417.8,172.5 419.0,176.0 C420.2,179.5 421.5,185.2 422.0,187.0" fill="none" stroke="#d0d0d0" stroke-width="2.0" stroke-linecap="round" opacity="1.0"/>
<path d="M440.0,158.0 C439.3,159.2 437.8,163.0 436.0,165.0 C434.2,167.0 431.2,168.5 429.0,170.0 C426.8,171.5 424.0,173.3 423.0,174.0" fill="none" stroke="#d0d0d0" stroke-width="1.8" stroke-linecap="round" opacity="1.0"/>
<path d="M410.0,123.0 C410.2,125.8 410.6,134.2 411.0,140.0 C411.4,145.8 412.1,155.0 412.3,158.0" fill="none" stroke="#c8c8c8" stroke-width="4.6" stroke-linecap="round" opacity="1.0"/>
<path d="M450.5,128.0 C449.6,130.7 446.8,139.0 445.0,144.0 C443.2,149.0 440.8,155.7 440.0,158.0" fill="none" stroke="#c4c4c4" stroke-width="4.0" stroke-linecap="round" opacity="1.0"/>
<path d="M415,170 L432,168 L430,187 L417,187Z" fill="#b0b0b0" opacity="0.6"/>
<path d="M427.0,150.0 C427.0,156.2 427.0,180.8 427.0,187.0" fill="none" stroke="#b0b0b0" stroke-width="2.0" stroke-linecap="round" opacity="1.0"/>
<g transform="rotate(0 427.2 30.5)"><ellipse cx="427.2" cy="48.3" rx="11.6" ry="7" fill="#5e5e5e"/><ellipse cx="427.2" cy="47.3" rx="6.4" ry="5.5" fill="#808080"/><ellipse cx="427.2" cy="38.6" rx="10.2" ry="8.4" fill="#9c9c9c"/><path d="M424.8,17.0 Q427.2,15.0 429.6,17.0 L432.0,22.7 L422.4,22.7Z" fill="#c0c0c0"/><ellipse cx="427.2" cy="30.5" rx="10.8" ry="10.0" fill="#787878" stroke="#e6e6e6" stroke-width="1.8"/><ellipse cx="421.1" cy="31.0" rx="3.5" ry="6.5" fill="#1e1e1e"/><ellipse cx="433.3" cy="31.0" rx="3.5" ry="6.5" fill="#1e1e1e"/><path d="M425.6,17.5 L424.9,36.4 L427.2,34.3 L429.5,36.4 L428.8,17.5Z" fill="#b0b0b0"/><path d="M426.2,17.5 L424.9,36.4 M428.2,17.5 L429.5,36.4" stroke="#f4f4f4" stroke-width="1.3" fill="none"/><path d="M419.1,39.7 Q427.2,44.5 435.3,39.7" stroke="#b8b8b8" stroke-width="1" fill="none"/></g>
<g transform="rotate(22 446.4 144)"><ellipse cx="446.4" cy="144" rx="7.59" ry="9.63" fill="url(#halo)" filter="url(#bblur)"/><g filter="url(#lblur)"><ellipse cx="446.9" cy="141" rx="4.4" ry="4" fill="url(#hot3)"/><ellipse cx="445.9" cy="146" rx="4.2" ry="4.4" fill="url(#hot3)"/><ellipse cx="446.4" cy="149.5" rx="3.4" ry="3" fill="url(#hot3)"/></g></g>
</g></g>
<text x="438.8" y="15.2" font-size="7.1" font-weight="bold" fill="#fff" font-family="Liberation Sans, Arial, sans-serif">24h</text>
<rect x="459.1" y="6.1" width="54.5" height="179.8" fill="#000"/>
<g clip-path="url(#cb3)"><g filter="url(#grain)">
<ellipse cx="504" cy="40" rx="8" ry="22" fill="#2010a0" opacity="0.2" filter="url(#haze)"/>
<g filter="url(#dblur)"><circle cx="495.6" cy="20.8" r="1.94" fill="#2a18b0" opacity="0.69"/><circle cx="512.6" cy="61.9" r="1.67" fill="#3020c8" opacity="0.45"/><circle cx="496.3" cy="45.0" r="1.81" fill="#3020c8" opacity="0.68"/><circle cx="496.6" cy="30.9" r="1.91" fill="#4020d8" opacity="0.47"/><circle cx="497.5" cy="53.3" r="0.97" fill="#4020d8" opacity="0.42"/><circle cx="496.1" cy="34.7" r="0.98" fill="#3020c8" opacity="0.63"/><circle cx="496.2" cy="35.5" r="1.59" fill="#3020c8" opacity="0.57"/><circle cx="500.0" cy="44.4" r="1.44" fill="#2a18b0" opacity="0.77"/><circle cx="496.6" cy="31.0" r="1.53" fill="#2a18b0" opacity="0.76"/><circle cx="504.5" cy="45.3" r="1.19" fill="#4020d8" opacity="0.50"/><circle cx="508.3" cy="40.7" r="1.05" fill="#4020d8" opacity="0.75"/><circle cx="502.6" cy="35.1" r="1.04" fill="#3020c8" opacity="0.66"/><circle cx="495.6" cy="47.4" r="1.00" fill="#3020c8" opacity="0.60"/><circle cx="502.6" cy="35.2" r="1.41" fill="#2a18b0" opacity="0.44"/><circle cx="504.1" cy="41.9" r="1.32" fill="#4020d8" opacity="0.78"/><circle cx="502.2" cy="53.0" r="1.72" fill="#3020c8" opacity="0.79"/><circle cx="506.6" cy="54.1" r="1.05" fill="#5028e0" opacity="0.54"/><circle cx="498.5" cy="32.7" r="1.58" fill="#2a18b0" opacity="0.72"/><circle cx="501.2" cy="49.8" r="1.29" fill="#2a18b0" opacity="0.72"/><circle cx="502.2" cy="55.5" r="1.47" fill="#4020d8" opacity="0.70"/><circle cx="501.5" cy="22.3" r="0.94" fill="#4020d8" opacity="0.48"/><circle cx="503.3" cy="59.2" r="1.63" fill="#2a18b0" opacity="0.40"/><circle cx="502.9" cy="57.2" r="1.58" fill="#5028e0" opacity="0.53"/><circle cx="502.8" cy="26.4" r="1.62" fill="#3020c8" opacity="0.55"/><circle cx="501.3" cy="56.7" r="1.07" fill="#2a18b0" opacity="0.44"/><circle cx="509.6" cy="51.0" r="1.64" fill="#3020c8" opacity="0.59"/></g>
<g filter="url(#dblur)"><circle cx="490.7" cy="175.6" r="1.17" fill="#3020c8" opacity="0.68"/><circle cx="505.5" cy="119.0" r="1.75" fill="#3020c8" opacity="0.71"/><circle cx="497.5" cy="116.7" r="1.04" fill="#4020d8" opacity="0.41"/><circle cx="506.4" cy="131.8" r="1.46" fill="#5028e0" opacity="0.76"/><circle cx="506.3" cy="145.1" r="0.98" fill="#2a18b0" opacity="0.51"/><circle cx="506.8" cy="149.7" r="0.96" fill="#4020d8" opacity="0.47"/><circle cx="494.8" cy="65.5" r="1.41" fill="#2a18b0" opacity="0.40"/><circle cx="491.4" cy="157.4" r="1.21" fill="#3020c8" opacity="0.41"/><circle cx="509.2" cy="164.7" r="1.37" fill="#3020c8" opacity="0.69"/><circle cx="495.5" cy="160.4" r="0.89" fill="#5028e0" opacity="0.42"/><circle cx="495.6" cy="66.3" r="1.20" fill="#3020c8" opacity="0.42"/><circle cx="509.2" cy="115.7" r="1.44" fill="#3020c8" opacity="0.78"/><circle cx="494.5" cy="147.0" r="1.44" fill="#4020d8" opacity="0.61"/><circle cx="491.9" cy="99.2" r="0.91" fill="#4020d8" opacity="0.64"/><circle cx="509.7" cy="86.8" r="0.82" fill="#2a18b0" opacity="0.59"/><circle cx="503.1" cy="107.1" r="1.43" fill="#3020c8" opacity="0.77"/><circle cx="497.1" cy="116.1" r="1.63" fill="#4020d8" opacity="0.62"/><circle cx="493.2" cy="120.4" r="1.58" fill="#2a18b0" opacity="0.73"/><circle cx="497.2" cy="76.2" r="0.88" fill="#4020d8" opacity="0.68"/><circle cx="508.4" cy="181.0" r="1.47" fill="#2a18b0" opacity="0.42"/><circle cx="506.1" cy="66.0" r="1.00" fill="#2a18b0" opacity="0.75"/><circle cx="510.4" cy="69.0" r="1.57" fill="#5028e0" opacity="0.70"/><circle cx="502.8" cy="172.0" r="1.45" fill="#4020d8" opacity="0.63"/><circle cx="500.2" cy="162.1" r="1.46" fill="#3020c8" opacity="0.69"/><circle cx="506.1" cy="93.5" r="1.61" fill="#5028e0" opacity="0.62"/><circle cx="497.4" cy="98.3" r="0.94" fill="#5028e0" opacity="0.67"/><circle cx="496.6" cy="67.9" r="1.56" fill="#3020c8" opacity="0.41"/><circle cx="491.2" cy="76.3" r="1.16" fill="#2a18b0" opacity="0.78"/><circle cx="504.1" cy="88.9" r="1.23" fill="#2a18b0" opacity="0.48"/><circle cx="498.2" cy="80.4" r="1.42" fill="#4020d8" opacity="0.69"/><circle cx="492.2" cy="126.3" r="0.97" fill="#4020d8" opacity="0.58"/><circle cx="511.6" cy="159.3" r="0.92" fill="#2a18b0" opacity="0.58"/><circle cx="495.3" cy="134.5" r="0.97" fill="#3020c8" opacity="0.71"/><circle cx="511.5" cy="126.6" r="1.77" fill="#3020c8" opacity="0.44"/><circle cx="508.7" cy="112.4" r="0.85" fill="#3020c8" opacity="0.41"/><circle cx="503.3" cy="120.2" r="1.68" fill="#5028e0" opacity="0.59"/><circle cx="494.6" cy="162.7" r="1.10" fill="#2a18b0" opacity="0.71"/><circle cx="508.1" cy="105.8" r="1.61" fill="#3020c8" opacity="0.65"/><circle cx="499.2" cy="77.9" r="1.63" fill="#5028e0" opacity="0.55"/><circle cx="492.2" cy="109.6" r="1.55" fill="#2a18b0" opacity="0.76"/><circle cx="494.6" cy="159.6" r="1.12" fill="#5028e0" opacity="0.75"/><circle cx="504.3" cy="160.0" r="1.18" fill="#3020c8" opacity="0.44"/><circle cx="503.9" cy="137.6" r="1.61" fill="#3020c8" opacity="0.53"/><circle cx="490.6" cy="99.0" r="1.18" fill="#5028e0" opacity="0.62"/><circle cx="505.9" cy="116.2" r="1.59" fill="#3020c8" opacity="0.61"/><circle cx="508.4" cy="105.3" r="1.39" fill="#4020d8" opacity="0.51"/><circle cx="491.8" cy="70.9" r="1.16" fill="#5028e0" opacity="0.52"/><circle cx="511.4" cy="94.3" r="1.52" fill="#3020c8" opacity="0.42"/><circle cx="492.0" cy="180.2" r="1.10" fill="#2a18b0" opacity="0.68"/><circle cx="509.3" cy="152.3" r="1.41" fill="#4020d8" opacity="0.59"/><circle cx="492.1" cy="75.1" r="1.14" fill="#5028e0" opacity="0.56"/><circle cx="490.1" cy="108.8" r="0.98" fill="#4020d8" opacity="0.76"/><circle cx="504.1" cy="108.3" r="0.91" fill="#2a18b0" opacity="0.50"/><circle cx="492.3" cy="96.7" r="1.60" fill="#3020c8" opacity="0.76"/><circle cx="493.9" cy="139.1" r="1.57" fill="#4020d8" opacity="0.66"/><circle cx="503.1" cy="138.3" r="1.44" fill="#5028e0" opacity="0.57"/><circle cx="499.8" cy="126.1" r="1.70" fill="#2a18b0" opacity="0.57"/><circle cx="491.9" cy="171.2" r="1.13" fill="#5028e0" opacity="0.41"/><circle cx="492.7" cy="130.3" r="1.40" fill="#4020d8" opacity="0.57"/><circle cx="497.5" cy="72.8" r="1.59" fill="#2a18b0" opacity="0.69"/><circle cx="491.4" cy="120.6" r="1.63" fill="#3020c8" opacity="0.53"/><circle cx="509.6" cy="140.6" r="1.73" fill="#4020d8" opacity="0.76"/><circle cx="504.2" cy="159.7" r="1.64" fill="#3020c8" opacity="0.48"/><circle cx="493.6" cy="71.6" r="0.95" fill="#3020c8" opacity="0.63"/><circle cx="500.1" cy="100.3" r="1.57" fill="#4020d8" opacity="0.69"/><circle cx="511.3" cy="179.6" r="1.43" fill="#3020c8" opacity="0.55"/><circle cx="508.7" cy="84.4" r="1.12" fill="#4020d8" opacity="0.58"/><circle cx="505.7" cy="152.9" r="0.88" fill="#5028e0" opacity="0.78"/><circle cx="500.7" cy="60.7" r="1.78" fill="#2a18b0" opacity="0.45"/><circle cx="490.1" cy="107.6" r="1.14" fill="#3020c8" opacity="0.60"/></g>
<g filter="url(#dblur)"><circle cx="488.1" cy="149.0" r="0.61" fill="#4020e0" opacity="0.64"/><circle cx="482.5" cy="84.4" r="0.84" fill="#3018d0" opacity="0.41"/><circle cx="475.0" cy="147.1" r="1.15" fill="#2020c0" opacity="0.41"/><circle cx="470.1" cy="166.0" r="0.96" fill="#2020c0" opacity="0.39"/><circle cx="489.6" cy="93.9" r="1.10" fill="#3018d0" opacity="0.41"/><circle cx="462.9" cy="119.7" r="1.29" fill="#4020e0" opacity="0.59"/><circle cx="467.4" cy="116.6" r="0.69" fill="#2020c0" opacity="0.32"/><circle cx="483.0" cy="105.1" r="0.61" fill="#1a1aa0" opacity="0.50"/><circle cx="488.7" cy="168.5" r="0.65" fill="#3018d0" opacity="0.38"/><circle cx="484.1" cy="61.5" r="0.96" fill="#1a1aa0" opacity="0.51"/><circle cx="485.2" cy="118.8" r="0.62" fill="#3018d0" opacity="0.45"/><circle cx="483.4" cy="114.3" r="1.02" fill="#2020c0" opacity="0.39"/><circle cx="472.6" cy="150.4" r="1.17" fill="#4020e0" opacity="0.61"/><circle cx="471.4" cy="184.9" r="1.13" fill="#1a1aa0" opacity="0.37"/><circle cx="483.4" cy="112.8" r="1.28" fill="#1a1aa0" opacity="0.39"/><circle cx="472.6" cy="93.9" r="0.93" fill="#1a1aa0" opacity="0.32"/><circle cx="479.0" cy="156.2" r="1.13" fill="#2020c0" opacity="0.34"/><circle cx="471.4" cy="172.2" r="1.22" fill="#3018d0" opacity="0.53"/><circle cx="482.4" cy="121.7" r="0.82" fill="#4020e0" opacity="0.36"/><circle cx="467.1" cy="175.0" r="1.26" fill="#2020c0" opacity="0.32"/><circle cx="484.4" cy="70.7" r="0.69" fill="#1a1aa0" opacity="0.43"/><circle cx="466.4" cy="96.7" r="1.23" fill="#2020c0" opacity="0.41"/><circle cx="463.2" cy="109.9" r="0.81" fill="#4020e0" opacity="0.50"/><circle cx="473.3" cy="168.8" r="1.28" fill="#3018d0" opacity="0.40"/><circle cx="476.4" cy="151.4" r="0.69" fill="#4020e0" opacity="0.53"/></g>
<circle cx="503.3" cy="44.7" r="1.2" fill="#ff3050"/>
<path d="M479,60 L493,60 L506,98 L500,106 L471,106 L470,96Z" fill="#2c2c2c" filter="url(#haze)"/>
<path d="M484.1,63.0 Q481.1,64.6 476.6,68.0" fill="none" stroke="#9c9c9c" stroke-width="0.75"/><path d="M487.1,63.0 Q489.6,64.4 493.6,67.4" fill="none" stroke="#9c9c9c" stroke-width="0.75"/><path d="M483.8,66.1 Q480.5,67.8 475.8,71.3" fill="none" stroke="#9c9c9c" stroke-width="0.75"/><path d="M486.8,66.1 Q489.8,67.7 494.3,71.0" fill="none" stroke="#9c9c9c" stroke-width="0.75"/><path d="M483.4,69.2 Q479.9,71.0 474.9,74.7" fill="none" stroke="#9c9c9c" stroke-width="0.75"/><path d="M486.4,69.2 Q489.9,71.0 494.9,74.7" fill="none" stroke="#9c9c9c" stroke-width="0.75"/><path d="M483.0,72.3 Q479.3,74.2 474.0,78.1" fill="none" stroke="#9c9c9c" stroke-width="0.75"/><path d="M486.0,72.3 Q490.0,74.3 495.5,78.3" fill="none" stroke="#9c9c9c" stroke-width="0.75"/><path d="M482.7,75.4 Q478.7,77.4 473.2,81.5" fill="none" stroke="#9c9c9c" stroke-width="0.75"/><path d="M485.7,75.4 Q490.2,77.6 496.2,82.0" fill="none" stroke="#9c9c9c" stroke-width="0.75"/><path d="M482.3,78.5 Q478.0,80.6 472.3,84.8" fill="none" stroke="#9c9c9c" stroke-width="0.75"/><path d="M485.3,78.5 Q490.3,80.8 496.8,85.7" fill="none" stroke="#9c9c9c" stroke-width="0.75"/><path d="M481.9,81.6 Q477.4,83.8 471.4,88.2" fill="none" stroke="#9c9c9c" stroke-width="0.75"/><path d="M484.9,81.6 Q490.4,84.1 497.4,89.3" fill="none" stroke="#9c9c9c" stroke-width="0.75"/><path d="M481.5,84.7 Q476.8,87.0 470.5,91.6" fill="none" stroke="#9c9c9c" stroke-width="0.75"/><path d="M484.5,84.7 Q490.5,87.4 498.0,93.0" fill="none" stroke="#9c9c9c" stroke-width="0.75"/><path d="M481.2,87.8 Q476.2,90.1 469.7,95.0" fill="none" stroke="#9c9c9c" stroke-width="0.75"/><path d="M484.2,87.8 Q490.7,90.7 498.7,96.6" fill="none" stroke="#9c9c9c" stroke-width="0.75"/><path d="M480.8,90.9 Q475.5,93.3 468.8,98.3" fill="none" stroke="#9c9c9c" stroke-width="0.75"/><path d="M483.8,90.9 Q490.8,94.0 499.3,100.2" fill="none" stroke="#9c9c9c" stroke-width="0.75"/><path d="M480.4,94.0 Q474.9,96.5 467.9,101.7" fill="none" stroke="#9c9c9c" stroke-width="0.75"/><path d="M483.4,94.0 Q490.9,97.2 499.9,103.9" fill="none" stroke="#9c9c9c" stroke-width="0.75"/>
<path d="M487.0,50.0 C486.8,52.5 486.7,59.2 486.0,65.0 C485.3,70.8 483.7,78.3 483.0,85.0 C482.3,91.7 481.8,97.5 482.0,105.0 C482.2,112.5 483.5,120.8 484.0,130.0 C484.5,139.2 484.7,152.5 485.0,160.0 C485.3,167.5 485.8,172.5 486.0,175.0" fill="none" stroke="#6e6e6e" stroke-width="3.6"/><path d="M487.0,50.0 C486.8,52.5 486.7,59.2 486.0,65.0 C485.3,70.8 483.7,78.3 483.0,85.0 C482.3,91.7 481.8,97.5 482.0,105.0 C482.2,112.5 483.5,120.8 484.0,130.0 C484.5,139.2 484.7,152.5 485.0,160.0 C485.3,167.5 485.8,172.5 486.0,175.0" fill="none" stroke="#a4a4a4" stroke-width="2.6" stroke-dasharray="1.2 1.0"/><path d="M487.0,50.0 C486.8,52.5 486.7,59.2 486.0,65.0 C485.3,70.8 483.7,78.3 483.0,85.0 C482.3,91.7 481.8,97.5 482.0,105.0 C482.2,112.5 483.5,120.8 484.0,130.0 C484.5,139.2 484.7,152.5 485.0,160.0 C485.3,167.5 485.8,172.5 486.0,175.0" fill="none" stroke="#8a8a8a" stroke-width="0.8"/>
<path d="M482.8,53.0 C482.2,54.7 480.0,59.6 479.0,63.0 C478.0,66.4 477.3,71.7 477.0,73.4" fill="none" stroke="#c8c8c8" stroke-width="2.6" stroke-linecap="round" opacity="1.0"/>
<path d="M494.5,55.8 C495.8,57.0 499.6,60.3 502.0,63.0 C504.4,65.7 507.8,70.5 509.0,72.0" fill="none" stroke="#c8c8c8" stroke-width="2.6" stroke-linecap="round" opacity="1.0"/>
<path d="M480.0,52.0 C481.2,52.7 484.3,55.5 487.0,56.0 C489.7,56.5 494.5,55.2 496.0,55.0" fill="none" stroke="#a8a8a8" stroke-width="2.4" stroke-linecap="round" opacity="1.0"/>
<path d="M479.0,126.0 C478.8,128.3 477.5,135.7 478.0,140.0 C478.5,144.3 480.8,149.0 482.0,152.0 C483.2,155.0 484.5,157.0 485.0,158.0" fill="none" stroke="#a0a0a0" stroke-width="1.6" stroke-linecap="round" opacity="1.0"/>
<path d="M494.0,126.0 C494.2,128.3 495.7,135.7 495.0,140.0 C494.3,144.3 491.7,149.0 490.0,152.0 C488.3,155.0 485.8,157.0 485.0,158.0" fill="none" stroke="#a0a0a0" stroke-width="1.6" stroke-linecap="round" opacity="1.0"/>
<path d="M478.4,158.0 C478.7,159.3 479.1,163.2 480.0,166.0 C480.9,168.8 482.7,172.0 484.0,175.0 C485.3,178.0 487.3,182.5 488.0,184.0" fill="none" stroke="#a8a8a8" stroke-width="5.5" stroke-linecap="round" opacity="0.9"/>
<path d="M501.0,158.0 C500.8,159.2 500.2,162.8 499.5,165.0 C498.8,167.2 497.4,170.0 497.0,171.0" fill="none" stroke="#a8a8a8" stroke-width="4.5" stroke-linecap="round" opacity="0.9"/>
<path d="M478.4,158.0 C478.7,159.3 479.1,163.2 480.0,166.0 C480.9,168.8 482.7,172.0 484.0,175.0 C485.3,178.0 487.3,182.5 488.0,184.0" fill="none" stroke="#d8d8d8" stroke-width="2.2" stroke-linecap="round" opacity="1.0"/>
<path d="M501.0,158.0 C500.8,159.2 500.2,162.8 499.5,165.0 C498.8,167.2 497.4,170.0 497.0,171.0" fill="none" stroke="#d0d0d0" stroke-width="1.8" stroke-linecap="round" opacity="1.0"/>
<path d="M474.8,129.0 C475.0,131.7 475.4,140.2 476.0,145.0 C476.6,149.8 478.0,155.8 478.4,158.0" fill="none" stroke="#c8c8c8" stroke-width="4.6" stroke-linecap="round" opacity="1.0"/>
<path d="M501.8,125.5 C501.8,128.2 501.6,136.6 501.5,142.0 C501.4,147.4 501.1,155.3 501.0,158.0" fill="none" stroke="#c4c4c4" stroke-width="4.0" stroke-linecap="round" opacity="1.0"/>
<path d="M497.0,171.0 C496.4,172.2 494.1,176.8 493.5,178.0" fill="none" stroke="#c8c8c8" stroke-width="0.8" stroke-linecap="round" opacity="1.0"/>
<path d="M497.0,171.0 C496.7,172.2 495.4,176.8 495.1,178.0" fill="none" stroke="#c8c8c8" stroke-width="0.8" stroke-linecap="round" opacity="1.0"/>
<path d="M497.0,171.0 C496.9,172.2 496.8,176.8 496.7,178.0" fill="none" stroke="#c8c8c8" stroke-width="0.8" stroke-linecap="round" opacity="1.0"/>
<path d="M497.0,171.0 C497.2,172.2 498.1,176.8 498.3,178.0" fill="none" stroke="#c8c8c8" stroke-width="0.8" stroke-linecap="round" opacity="1.0"/>
<path d="M479,172 L492,170 L495,187 L483,187Z" fill="#b0b0b0" opacity="0.55"/>
<g transform="rotate(0 487.8 30.6)"><ellipse cx="487.8" cy="49.0" rx="11.2" ry="7" fill="#5e5e5e"/><ellipse cx="487.8" cy="48.0" rx="6.2" ry="5.5" fill="#808080"/><ellipse cx="487.8" cy="39.2" rx="9.9" ry="8.9" fill="#9c9c9c"/><path d="M485.4,17.8 Q487.8,15.8 490.2,17.8 L492.6,22.2 L483.0,22.2Z" fill="#c0c0c0"/><ellipse cx="487.8" cy="30.6" rx="10.4" ry="10.6" fill="#787878" stroke="#e6e6e6" stroke-width="1.8"/><ellipse cx="481.9" cy="31.2" rx="3.4" ry="6.8" fill="#1e1e1e"/><ellipse cx="493.7" cy="31.2" rx="3.4" ry="6.8" fill="#1e1e1e"/><path d="M486.2,18.3 L485.6,36.9 L487.8,34.6 L490.0,36.9 L489.4,18.3Z" fill="#b0b0b0"/><path d="M486.8,18.3 L485.6,36.9 M488.8,18.3 L490.0,36.9" stroke="#f4f4f4" stroke-width="1.3" fill="none"/><path d="M480.0,40.3 Q487.8,45.4 495.6,40.3" stroke="#b8b8b8" stroke-width="1" fill="none"/></g>
<g transform="rotate(0 500.3 141.6)"><ellipse cx="500.3" cy="141.6" rx="6.67" ry="10.30" fill="url(#halo)" filter="url(#bblur)"/><g filter="url(#lblur)"><ellipse cx="500.3" cy="138.1" rx="3.6" ry="4" fill="url(#hot3)"/><ellipse cx="499.8" cy="143.1" rx="3.8" ry="4" fill="url(#hot3)"/><ellipse cx="500.3" cy="147.1" rx="3" ry="3" fill="url(#hot3)"/></g></g>
</g></g>
<text x="496.6" y="15.2" font-size="7.1" font-weight="bold" fill="#fff" font-family="Liberation Sans, Arial, sans-serif">48h</text>
<rect x="341.8" y="7" width="3" height="3.5" fill="#8898a8"/>
<rect x="397.5" y="7" width="3" height="3.5" fill="#8898a8"/>
<rect x="459.4" y="7" width="3" height="3.5" fill="#8898a8"/>
<rect x="513.5" y="27.9" width="16.5" height="158" fill="#000"/>
<rect x="514.4" y="27.9" width="15.6" height="118" fill="url(#greybar)"/>
<line x1="514" y1="147" x2="530" y2="147" stroke="#b0b0b0" stroke-width="0.8"/>
<rect x="530" y="26" width="16" height="159.9" fill="url(#hotbar)"/>
<text x="516.8" y="17.2" font-size="4.7" fill="#302a48" stroke="#302a48" stroke-width="0.1" font-family="Liberation Sans, Arial, sans-serif">UNK COUNT!</text>
<text x="514" y="25.6" font-size="5" fill="#222" font-family="Liberation Sans, Arial, sans-serif" text-decoration="underline">3e+03</text>
<text x="514" y="66" font-size="5" fill="#222" font-family="Liberation Sans, Arial, sans-serif" text-decoration="underline">2e+03</text>
<text x="514" y="106" font-size="5" fill="#222" font-family="Liberation Sans, Arial, sans-serif" text-decoration="underline">1e+03</text>
<text x="514.6" y="146.4" font-size="4.6" fill="#ddd" font-family="Liberation Sans, Arial, sans-serif">0</text>
<text x="530.4" y="58.4" font-size="5" fill="#222" font-family="Liberation Sans, Arial, sans-serif" text-decoration="underline">2e+01</text>
<text x="530.4" y="123" font-size="5" fill="#222" font-family="Liberation Sans, Arial, sans-serif" text-decoration="underline">1e+01</text>
<text x="510" y="185" font-size="4.6" fill="#aaa" font-family="Liberation Sans, Arial, sans-serif">1e+00</text>
<rect x="66.50" y="361.50" width="2.65" height="0.90" fill="#ea1b1b" stroke="#000" stroke-opacity="0.45" stroke-width="0.35"/>
<rect x="80.10" y="361.50" width="2.65" height="0.90" fill="#ea1b1b" stroke="#000" stroke-opacity="0.45" stroke-width="0.35"/>
<rect x="93.70" y="361.50" width="2.65" height="0.90" fill="#ea1b1b" stroke="#000" stroke-opacity="0.45" stroke-width="0.35"/>
<line x1="108.62" y1="357.42" x2="108.62" y2="357.98" stroke="#aaa" stroke-width="0.6"/>
<line x1="107.83" y1="357.42" x2="109.42" y2="357.42" stroke="#aaa" stroke-width="0.6"/>
<rect x="107.30" y="357.98" width="2.65" height="4.42" fill="#ea1b1b" stroke="#000" stroke-opacity="0.45" stroke-width="0.35"/>
<rect x="120.90" y="361.29" width="2.65" height="1.11" fill="#ea1b1b" stroke="#000" stroke-opacity="0.45" stroke-width="0.35"/>
<line x1="135.82" y1="231.11" x2="135.82" y2="240.78" stroke="#aaa" stroke-width="0.6"/>
<line x1="135.02" y1="231.11" x2="136.62" y2="231.11" stroke="#aaa" stroke-width="0.6"/>
<rect x="134.50" y="240.78" width="2.65" height="121.62" fill="#ea1b1b" stroke="#000" stroke-opacity="0.45" stroke-width="0.35"/>
<line x1="138.47" y1="350.79" x2="138.47" y2="353.00" stroke="#aaa" stroke-width="0.6"/>
<line x1="137.67" y1="350.79" x2="139.28" y2="350.79" stroke="#aaa" stroke-width="0.6"/>
<rect x="137.15" y="353.00" width="2.65" height="9.40" fill="#1de81d" stroke="#000" stroke-opacity="0.45" stroke-width="0.35"/>
<line x1="141.12" y1="358.81" x2="141.12" y2="359.36" stroke="#aaa" stroke-width="0.6"/>
<line x1="140.32" y1="358.81" x2="141.93" y2="358.81" stroke="#aaa" stroke-width="0.6"/>
<rect x="139.80" y="359.36" width="2.65" height="3.04" fill="#0f0fd2" stroke="#000" stroke-opacity="0.45" stroke-width="0.35"/>
<line x1="143.77" y1="361.16" x2="143.77" y2="361.43" stroke="#aaa" stroke-width="0.6"/>
<line x1="142.97" y1="361.16" x2="144.57" y2="361.16" stroke="#aaa" stroke-width="0.6"/>
<rect x="142.45" y="361.43" width="2.65" height="0.97" fill="#1fefef" stroke="#000" stroke-opacity="0.45" stroke-width="0.35"/>
<rect x="148.10" y="361.57" width="2.65" height="0.83" fill="#ea1b1b" stroke="#000" stroke-opacity="0.45" stroke-width="0.35"/>
<line x1="163.02" y1="311.27" x2="163.02" y2="312.65" stroke="#aaa" stroke-width="0.6"/>
<line x1="162.22" y1="311.27" x2="163.82" y2="311.27" stroke="#aaa" stroke-width="0.6"/>
<rect x="161.70" y="312.65" width="2.65" height="49.75" fill="#ea1b1b" stroke="#000" stroke-opacity="0.45" stroke-width="0.35"/>
<line x1="165.67" y1="357.42" x2="165.67" y2="359.08" stroke="#aaa" stroke-width="0.6"/>
<line x1="164.87" y1="357.42" x2="166.47" y2="357.42" stroke="#aaa" stroke-width="0.6"/>
<rect x="164.35" y="359.08" width="2.65" height="3.32" fill="#1de81d" stroke="#000" stroke-opacity="0.45" stroke-width="0.35"/>
<line x1="168.32" y1="361.43" x2="168.32" y2="361.71" stroke="#aaa" stroke-width="0.6"/>
<line x1="167.52" y1="361.43" x2="169.12" y2="361.43" stroke="#aaa" stroke-width="0.6"/>
<rect x="167.00" y="361.71" width="2.65" height="0.69" fill="#0f0fd2" stroke="#000" stroke-opacity="0.45" stroke-width="0.35"/>
<rect x="175.30" y="361.50" width="2.65" height="0.90" fill="#ea1b1b" stroke="#000" stroke-opacity="0.45" stroke-width="0.35"/>
<rect x="188.90" y="361.50" width="2.65" height="0.90" fill="#ea1b1b" stroke="#000" stroke-opacity="0.45" stroke-width="0.35"/>
<rect x="202.50" y="361.16" width="2.65" height="1.24" fill="#ea1b1b" stroke="#000" stroke-opacity="0.45" stroke-width="0.35"/>
<line x1="217.42" y1="311.27" x2="217.42" y2="322.05" stroke="#aaa" stroke-width="0.6"/>
<line x1="216.62" y1="311.27" x2="218.22" y2="311.27" stroke="#aaa" stroke-width="0.6"/>
<rect x="216.10" y="322.05" width="2.65" height="40.35" fill="#ea1b1b" stroke="#000" stroke-opacity="0.45" stroke-width="0.35"/>
<line x1="220.07" y1="295.23" x2="220.07" y2="297.45" stroke="#aaa" stroke-width="0.6"/>
<line x1="219.27" y1="295.23" x2="220.87" y2="295.23" stroke="#aaa" stroke-width="0.6"/>
<rect x="218.75" y="297.45" width="2.65" height="64.95" fill="#1de81d" stroke="#000" stroke-opacity="0.45" stroke-width="0.35"/>
<line x1="222.72" y1="325.92" x2="222.72" y2="327.02" stroke="#aaa" stroke-width="0.6"/>
<line x1="221.92" y1="325.92" x2="223.52" y2="325.92" stroke="#aaa" stroke-width="0.6"/>
<rect x="221.40" y="327.02" width="2.65" height="35.38" fill="#0f0fd2" stroke="#000" stroke-opacity="0.45" stroke-width="0.35"/>
<line x1="225.37" y1="334.48" x2="225.37" y2="335.31" stroke="#aaa" stroke-width="0.6"/>
<line x1="224.57" y1="334.48" x2="226.17" y2="334.48" stroke="#aaa" stroke-width="0.6"/>
<rect x="224.05" y="335.31" width="2.65" height="27.09" fill="#1fefef" stroke="#000" stroke-opacity="0.45" stroke-width="0.35"/>
<line x1="58.2" y1="223.5" x2="58.2" y2="365.6" stroke="#8a8a8a" stroke-width="1"/>
<line x1="58.2" y1="362.4" x2="235.00" y2="362.4" stroke="#8a8a8a" stroke-width="1"/>
<line x1="55.6" y1="362.40" x2="58.2" y2="362.40" stroke="#8a8a8a" stroke-width="0.9"/>
<text x="54.6" y="364.80" font-size="7" text-anchor="end" class="ct" font-family="Liberation Sans, Arial, sans-serif">0</text>
<line x1="55.6" y1="334.76" x2="58.2" y2="334.76" stroke="#8a8a8a" stroke-width="0.9"/>
<text x="54.6" y="337.16" font-size="7" text-anchor="end" class="ct" font-family="Liberation Sans, Arial, sans-serif">10</text>
<line x1="55.6" y1="307.12" x2="58.2" y2="307.12" stroke="#8a8a8a" stroke-width="0.9"/>
<text x="54.6" y="309.52" font-size="7" text-anchor="end" class="ct" font-family="Liberation Sans, Arial, sans-serif">20</text>
<line x1="55.6" y1="279.48" x2="58.2" y2="279.48" stroke="#8a8a8a" stroke-width="0.9"/>
<text x="54.6" y="281.88" font-size="7" text-anchor="end" class="ct" font-family="Liberation Sans, Arial, sans-serif">30</text>
<line x1="55.6" y1="251.84" x2="58.2" y2="251.84" stroke="#8a8a8a" stroke-width="0.9"/>
<text x="54.6" y="254.24" font-size="7" text-anchor="end" class="ct" font-family="Liberation Sans, Arial, sans-serif">40</text>
<line x1="55.6" y1="224.20" x2="58.2" y2="224.20" stroke="#8a8a8a" stroke-width="0.9"/>
<text x="54.6" y="226.60" font-size="7" text-anchor="end" class="ct" font-family="Liberation Sans, Arial, sans-serif">50</text>
<line x1="58.2" y1="348.58" x2="59.5" y2="348.58" stroke="#8a8a8a" stroke-width="0.8"/>
<line x1="58.2" y1="320.94" x2="59.5" y2="320.94" stroke="#8a8a8a" stroke-width="0.8"/>
<line x1="58.2" y1="293.30" x2="59.5" y2="293.30" stroke="#8a8a8a" stroke-width="0.8"/>
<line x1="58.2" y1="265.66" x2="59.5" y2="265.66" stroke="#8a8a8a" stroke-width="0.8"/>
<line x1="58.2" y1="238.02" x2="59.5" y2="238.02" stroke="#8a8a8a" stroke-width="0.8"/>
<line x1="58.20" y1="362.4" x2="58.20" y2="365.59999999999997" stroke="#8a8a8a" stroke-width="0.9"/>
<line x1="65.00" y1="362.4" x2="65.00" y2="364.2" stroke="#8a8a8a" stroke-width="0.9"/>
<line x1="71.80" y1="362.4" x2="71.80" y2="365.59999999999997" stroke="#8a8a8a" stroke-width="0.9"/>
<line x1="78.60" y1="362.4" x2="78.60" y2="364.2" stroke="#8a8a8a" stroke-width="0.9"/>
<line x1="85.40" y1="362.4" x2="85.40" y2="365.59999999999997" stroke="#8a8a8a" stroke-width="0.9"/>
<line x1="92.20" y1="362.4" x2="92.20" y2="364.2" stroke="#8a8a8a" stroke-width="0.9"/>
<line x1="99.00" y1="362.4" x2="99.00" y2="365.59999999999997" stroke="#8a8a8a" stroke-width="0.9"/>
<line x1="105.80" y1="362.4" x2="105.80" y2="364.2" stroke="#8a8a8a" stroke-width="0.9"/>
<line x1="112.60" y1="362.4" x2="112.60" y2="365.59999999999997" stroke="#8a8a8a" stroke-width="0.9"/>
<line x1="119.40" y1="362.4" x2="119.40" y2="364.2" stroke="#8a8a8a" stroke-width="0.9"/>
<line x1="126.20" y1="362.4" x2="126.20" y2="365.59999999999997" stroke="#8a8a8a" stroke-width="0.9"/>
<line x1="133.00" y1="362.4" x2="133.00" y2="364.2" stroke="#8a8a8a" stroke-width="0.9"/>
<line x1="139.80" y1="362.4" x2="139.80" y2="365.59999999999997" stroke="#8a8a8a" stroke-width="0.9"/>
<line x1="146.60" y1="362.4" x2="146.60" y2="364.2" stroke="#8a8a8a" stroke-width="0.9"/>
<line x1="153.40" y1="362.4" x2="153.40" y2="365.59999999999997" stroke="#8a8a8a" stroke-width="0.9"/>
<line x1="160.20" y1="362.4" x2="160.20" y2="364.2" stroke="#8a8a8a" stroke-width="0.9"/>
<line x1="167.00" y1="362.4" x2="167.00" y2="365.59999999999997" stroke="#8a8a8a" stroke-width="0.9"/>
<line x1="173.80" y1="362.4" x2="173.80" y2="364.2" stroke="#8a8a8a" stroke-width="0.9"/>
<line x1="180.60" y1="362.4" x2="180.60" y2="365.59999999999997" stroke="#8a8a8a" stroke-width="0.9"/>
<line x1="187.40" y1="362.4" x2="187.40" y2="364.2" stroke="#8a8a8a" stroke-width="0.9"/>
<line x1="194.20" y1="362.4" x2="194.20" y2="365.59999999999997" stroke="#8a8a8a" stroke-width="0.9"/>
<line x1="201.00" y1="362.4" x2="201.00" y2="364.2" stroke="#8a8a8a" stroke-width="0.9"/>
<line x1="207.80" y1="362.4" x2="207.80" y2="365.59999999999997" stroke="#8a8a8a" stroke-width="0.9"/>
<line x1="214.60" y1="362.4" x2="214.60" y2="364.2" stroke="#8a8a8a" stroke-width="0.9"/>
<line x1="221.40" y1="362.4" x2="221.40" y2="365.59999999999997" stroke="#8a8a8a" stroke-width="0.9"/>
<line x1="228.20" y1="362.4" x2="228.20" y2="364.2" stroke="#8a8a8a" stroke-width="0.9"/>
<line x1="235.00" y1="362.4" x2="235.00" y2="365.59999999999997" stroke="#8a8a8a" stroke-width="0.9"/>
<text x="77.80" y="371.50" font-size="7" text-anchor="end" class="ct" transform="rotate(-45 77.80 371.50)" font-family="Liberation Sans, Arial, sans-serif">Blood</text>
<text x="91.40" y="371.50" font-size="7" text-anchor="end" class="ct" transform="rotate(-45 91.40 371.50)" font-family="Liberation Sans, Arial, sans-serif">Heart</text>
<text x="105.00" y="371.50" font-size="7" text-anchor="end" class="ct" transform="rotate(-45 105.00 371.50)" font-family="Liberation Sans, Arial, sans-serif">Liver</text>
<text x="118.60" y="371.50" font-size="7" text-anchor="end" class="ct" transform="rotate(-45 118.60 371.50)" font-family="Liberation Sans, Arial, sans-serif">Spleen</text>
<text x="132.20" y="371.50" font-size="7" text-anchor="end" class="ct" transform="rotate(-45 132.20 371.50)" font-family="Liberation Sans, Arial, sans-serif">Lung</text>
<text x="145.80" y="371.50" font-size="7" text-anchor="end" class="ct" transform="rotate(-45 145.80 371.50)" font-family="Liberation Sans, Arial, sans-serif">Kidney</text>
<text x="159.40" y="371.50" font-size="7" text-anchor="end" class="ct" transform="rotate(-45 159.40 371.50)" font-family="Liberation Sans, Arial, sans-serif">Muscle</text>
<text x="173.00" y="371.50" font-size="7" text-anchor="end" class="ct" transform="rotate(-45 173.00 371.50)" font-family="Liberation Sans, Arial, sans-serif">bladder</text>
<text x="186.60" y="371.50" font-size="7" text-anchor="end" class="ct" transform="rotate(-45 186.60 371.50)" font-family="Liberation Sans, Arial, sans-serif">Brain</text>
<text x="200.20" y="371.50" font-size="7" text-anchor="end" class="ct" transform="rotate(-45 200.20 371.50)" font-family="Liberation Sans, Arial, sans-serif">Bone</text>
<text x="213.80" y="371.50" font-size="7" text-anchor="end" class="ct" transform="rotate(-45 213.80 371.50)" font-family="Liberation Sans, Arial, sans-serif">Intestine</text>
<text x="227.40" y="371.50" font-size="7" text-anchor="end" class="ct" transform="rotate(-45 227.40 371.50)" font-family="Liberation Sans, Arial, sans-serif">LNCaP</text>
<text x="0" y="0" font-size="7" text-anchor="middle" class="ct" transform="translate(41.6 289.8) rotate(-90)" font-family="Liberation Sans, Arial, sans-serif">%IA/g</text>
<rect x="195.2" y="226.2" width="36" height="43.2" fill="#fff" stroke="#8a8a8a" stroke-width="0.9"/>
<rect x="197.1" y="230.40" width="17.6" height="6.3" fill="#ea1b1b" stroke="#444" stroke-width="0.4"/>
<text x="217.2" y="236.10" font-size="7.3" class="ct" font-family="Liberation Sans, Arial, sans-serif">1h</text>
<rect x="197.1" y="239.50" width="17.6" height="6.3" fill="#1de81d" stroke="#444" stroke-width="0.4"/>
<text x="217.2" y="245.20" font-size="7.3" class="ct" font-family="Liberation Sans, Arial, sans-serif">4h</text>
<rect x="197.1" y="248.60" width="17.6" height="6.3" fill="#0f0fd2" stroke="#444" stroke-width="0.4"/>
<text x="217.2" y="254.30" font-size="7.3" class="ct" font-family="Liberation Sans, Arial, sans-serif">24h</text>
<rect x="197.1" y="257.70" width="17.6" height="6.3" fill="#1fefef" stroke="#444" stroke-width="0.4"/>
<text x="217.2" y="263.40" font-size="7.3" class="ct" font-family="Liberation Sans, Arial, sans-serif">48h</text>
<line x1="375.90" y1="265.02" x2="375.90" y2="268.99" stroke="#999" stroke-width="0.6"/>
<line x1="374.70" y1="265.02" x2="377.10" y2="265.02" stroke="#999" stroke-width="0.6"/>
<rect x="370.20" y="268.99" width="11.40" height="97.51" fill="#ea1b1b" stroke="#000" stroke-opacity="0.55" stroke-width="0.5"/>
<line x1="387.30" y1="246.81" x2="387.30" y2="247.57" stroke="#999" stroke-width="0.6"/>
<line x1="386.10" y1="246.81" x2="388.50" y2="246.81" stroke="#999" stroke-width="0.6"/>
<rect x="381.60" y="247.57" width="11.40" height="118.93" fill="#1de81d" stroke="#000" stroke-opacity="0.55" stroke-width="0.5"/>
<line x1="398.70" y1="240.68" x2="398.70" y2="241.69" stroke="#999" stroke-width="0.6"/>
<line x1="397.50" y1="240.68" x2="399.90" y2="240.68" stroke="#999" stroke-width="0.6"/>
<rect x="393.00" y="241.69" width="11.40" height="124.81" fill="#0f0fd2" stroke="#000" stroke-opacity="0.55" stroke-width="0.5"/>
<line x1="410.10" y1="245.64" x2="410.10" y2="247.31" stroke="#999" stroke-width="0.6"/>
<line x1="408.90" y1="245.64" x2="411.30" y2="245.64" stroke="#999" stroke-width="0.6"/>
<rect x="404.40" y="247.31" width="11.40" height="119.19" fill="#1fefef" stroke="#000" stroke-opacity="0.55" stroke-width="0.5"/>
<line x1="431.80" y1="345.82" x2="431.80" y2="348.69" stroke="#999" stroke-width="0.6"/>
<line x1="430.60" y1="345.82" x2="433.00" y2="345.82" stroke="#999" stroke-width="0.6"/>
<rect x="426.10" y="348.69" width="11.40" height="17.81" fill="#ea1b1b" stroke="#000" stroke-opacity="0.55" stroke-width="0.5"/>
<line x1="443.20" y1="298.57" x2="443.20" y2="305.42" stroke="#999" stroke-width="0.6"/>
<line x1="442.00" y1="298.57" x2="444.40" y2="298.57" stroke="#999" stroke-width="0.6"/>
<rect x="437.50" y="305.42" width="11.40" height="61.08" fill="#1de81d" stroke="#000" stroke-opacity="0.55" stroke-width="0.5"/>
<line x1="454.60" y1="292.78" x2="454.60" y2="294.47" stroke="#999" stroke-width="0.6"/>
<line x1="453.40" y1="292.78" x2="455.80" y2="292.78" stroke="#999" stroke-width="0.6"/>
<rect x="448.90" y="294.47" width="11.40" height="72.03" fill="#0f0fd2" stroke="#000" stroke-opacity="0.55" stroke-width="0.5"/>
<line x1="466.00" y1="281.41" x2="466.00" y2="283.55" stroke="#999" stroke-width="0.6"/>
<line x1="464.80" y1="281.41" x2="467.20" y2="281.41" stroke="#999" stroke-width="0.6"/>
<rect x="460.30" y="283.55" width="11.40" height="82.95" fill="#1fefef" stroke="#000" stroke-opacity="0.55" stroke-width="0.5"/>
<line x1="488.00" y1="269.42" x2="488.00" y2="271.07" stroke="#999" stroke-width="0.6"/>
<line x1="486.80" y1="269.42" x2="489.20" y2="269.42" stroke="#999" stroke-width="0.6"/>
<rect x="482.30" y="271.07" width="11.40" height="95.43" fill="#ea1b1b" stroke="#000" stroke-opacity="0.55" stroke-width="0.5"/>
<line x1="499.40" y1="234.42" x2="499.40" y2="236.72" stroke="#999" stroke-width="0.6"/>
<line x1="498.20" y1="234.42" x2="500.60" y2="234.42" stroke="#999" stroke-width="0.6"/>
<rect x="493.70" y="236.72" width="11.40" height="129.78" fill="#1de81d" stroke="#000" stroke-opacity="0.55" stroke-width="0.5"/>
<line x1="510.80" y1="230.67" x2="510.80" y2="231.52" stroke="#999" stroke-width="0.6"/>
<line x1="509.60" y1="230.67" x2="512.00" y2="230.67" stroke="#999" stroke-width="0.6"/>
<rect x="505.10" y="231.52" width="11.40" height="134.98" fill="#0f0fd2" stroke="#000" stroke-opacity="0.55" stroke-width="0.5"/>
<line x1="522.20" y1="243.53" x2="522.20" y2="245.19" stroke="#999" stroke-width="0.6"/>
<line x1="521.00" y1="243.53" x2="523.40" y2="243.53" stroke="#999" stroke-width="0.6"/>
<rect x="516.50" y="245.19" width="11.40" height="121.31" fill="#1fefef" stroke="#000" stroke-opacity="0.55" stroke-width="0.5"/>
<line x1="364.2" y1="228.6" x2="364.2" y2="367.0" stroke="#8a8a8a" stroke-width="1"/>
<line x1="364.2" y1="366.5" x2="533.5" y2="366.5" stroke="#8a8a8a" stroke-width="1"/>
<line x1="361.59999999999997" y1="366.50" x2="364.2" y2="366.50" stroke="#8a8a8a" stroke-width="0.9"/>
<text x="360.8" y="368.90" font-size="7" text-anchor="end" class="ct" font-family="Liberation Sans, Arial, sans-serif">0.1</text>
<line x1="364.2" y1="356.16" x2="365.5" y2="356.16" stroke="#8a8a8a" stroke-width="0.6"/>
<line x1="364.2" y1="350.11" x2="365.5" y2="350.11" stroke="#8a8a8a" stroke-width="0.6"/>
<line x1="364.2" y1="345.82" x2="365.5" y2="345.82" stroke="#8a8a8a" stroke-width="0.6"/>
<line x1="364.2" y1="342.49" x2="365.5" y2="342.49" stroke="#8a8a8a" stroke-width="0.6"/>
<line x1="364.2" y1="339.77" x2="365.5" y2="339.77" stroke="#8a8a8a" stroke-width="0.6"/>
<line x1="364.2" y1="337.47" x2="365.5" y2="337.47" stroke="#8a8a8a" stroke-width="0.6"/>
<line x1="364.2" y1="335.48" x2="365.5" y2="335.48" stroke="#8a8a8a" stroke-width="0.6"/>
<line x1="364.2" y1="333.72" x2="365.5" y2="333.72" stroke="#8a8a8a" stroke-width="0.6"/>
<line x1="361.59999999999997" y1="332.15" x2="364.2" y2="332.15" stroke="#8a8a8a" stroke-width="0.9"/>
<text x="360.8" y="334.55" font-size="7" text-anchor="end" class="ct" font-family="Liberation Sans, Arial, sans-serif">1</text>
<line x1="364.2" y1="321.81" x2="365.5" y2="321.81" stroke="#8a8a8a" stroke-width="0.6"/>
<line x1="364.2" y1="315.76" x2="365.5" y2="315.76" stroke="#8a8a8a" stroke-width="0.6"/>
<line x1="364.2" y1="311.47" x2="365.5" y2="311.47" stroke="#8a8a8a" stroke-width="0.6"/>
<line x1="364.2" y1="308.14" x2="365.5" y2="308.14" stroke="#8a8a8a" stroke-width="0.6"/>
<line x1="364.2" y1="305.42" x2="365.5" y2="305.42" stroke="#8a8a8a" stroke-width="0.6"/>
<line x1="364.2" y1="303.12" x2="365.5" y2="303.12" stroke="#8a8a8a" stroke-width="0.6"/>
<line x1="364.2" y1="301.13" x2="365.5" y2="301.13" stroke="#8a8a8a" stroke-width="0.6"/>
<line x1="364.2" y1="299.37" x2="365.5" y2="299.37" stroke="#8a8a8a" stroke-width="0.6"/>
<line x1="361.59999999999997" y1="297.80" x2="364.2" y2="297.80" stroke="#8a8a8a" stroke-width="0.9"/>
<text x="360.8" y="300.20" font-size="7" text-anchor="end" class="ct" font-family="Liberation Sans, Arial, sans-serif">10</text>
<line x1="364.2" y1="287.46" x2="365.5" y2="287.46" stroke="#8a8a8a" stroke-width="0.6"/>
<line x1="364.2" y1="281.41" x2="365.5" y2="281.41" stroke="#8a8a8a" stroke-width="0.6"/>
<line x1="364.2" y1="277.12" x2="365.5" y2="277.12" stroke="#8a8a8a" stroke-width="0.6"/>
<line x1="364.2" y1="273.79" x2="365.5" y2="273.79" stroke="#8a8a8a" stroke-width="0.6"/>
<line x1="364.2" y1="271.07" x2="365.5" y2="271.07" stroke="#8a8a8a" stroke-width="0.6"/>
<line x1="364.2" y1="268.77" x2="365.5" y2="268.77" stroke="#8a8a8a" stroke-width="0.6"/>
<line x1="364.2" y1="266.78" x2="365.5" y2="266.78" stroke="#8a8a8a" stroke-width="0.6"/>
<line x1="364.2" y1="265.02" x2="365.5" y2="265.02" stroke="#8a8a8a" stroke-width="0.6"/>
<line x1="361.59999999999997" y1="263.45" x2="364.2" y2="263.45" stroke="#8a8a8a" stroke-width="0.9"/>
<text x="360.8" y="265.85" font-size="7" text-anchor="end" class="ct" font-family="Liberation Sans, Arial, sans-serif">100</text>
<line x1="364.2" y1="253.11" x2="365.5" y2="253.11" stroke="#8a8a8a" stroke-width="0.6"/>
<line x1="364.2" y1="247.06" x2="365.5" y2="247.06" stroke="#8a8a8a" stroke-width="0.6"/>
<line x1="364.2" y1="242.77" x2="365.5" y2="242.77" stroke="#8a8a8a" stroke-width="0.6"/>
<line x1="364.2" y1="239.44" x2="365.5" y2="239.44" stroke="#8a8a8a" stroke-width="0.6"/>
<line x1="364.2" y1="236.72" x2="365.5" y2="236.72" stroke="#8a8a8a" stroke-width="0.6"/>
<line x1="364.2" y1="234.42" x2="365.5" y2="234.42" stroke="#8a8a8a" stroke-width="0.6"/>
<line x1="364.2" y1="232.43" x2="365.5" y2="232.43" stroke="#8a8a8a" stroke-width="0.6"/>
<line x1="364.2" y1="230.67" x2="365.5" y2="230.67" stroke="#8a8a8a" stroke-width="0.6"/>
<line x1="361.59999999999997" y1="229.10" x2="364.2" y2="229.10" stroke="#8a8a8a" stroke-width="0.9"/>
<text x="360.8" y="231.50" font-size="7" text-anchor="end" class="ct" font-family="Liberation Sans, Arial, sans-serif">1000</text>
<line x1="420.7" y1="366.5" x2="420.7" y2="368.3" stroke="#8a8a8a" stroke-width="0.9"/>
<line x1="476.6" y1="366.5" x2="476.6" y2="368.3" stroke="#8a8a8a" stroke-width="0.9"/>
<line x1="533.3" y1="366.5" x2="533.3" y2="368.3" stroke="#8a8a8a" stroke-width="0.9"/>
<line x1="393.0" y1="366.5" x2="393.0" y2="369.5" stroke="#8a8a8a" stroke-width="0.9"/>
<line x1="448.9" y1="366.5" x2="448.9" y2="369.5" stroke="#8a8a8a" stroke-width="0.9"/>
<line x1="505.1" y1="366.5" x2="505.1" y2="369.5" stroke="#8a8a8a" stroke-width="0.9"/>
<text x="393.0" y="377.6" font-size="7" text-anchor="middle" class="ct" font-family="Liberation Sans, Arial, sans-serif">Tumor/Blood</text>
<text x="448.9" y="377.6" font-size="7" text-anchor="middle" class="ct" font-family="Liberation Sans, Arial, sans-serif">Tumor/Kidney</text>
<text x="505.1" y="377.6" font-size="7" text-anchor="middle" class="ct" font-family="Liberation Sans, Arial, sans-serif">Tumor/Muscle</text>
<text x="0" y="0" font-size="7" font-weight="bold" text-anchor="middle" class="ct" transform="translate(342.2 295.4) rotate(-90)" font-family="Liberation Sans, Arial, sans-serif">T/N ratio</text>
<rect x="432.8" y="224.6" width="34" height="42.6" fill="#fff" stroke="#8a8a8a" stroke-width="0.9"/>
<rect x="434.1" y="229.20" width="16.9" height="6.2" fill="#ea1b1b" stroke="#444" stroke-width="0.4"/>
<text x="453.2" y="234.90" font-size="7.2" class="ct" font-family="Liberation Sans, Arial, sans-serif">1h</text>
<rect x="434.1" y="238.30" width="16.9" height="6.2" fill="#1de81d" stroke="#444" stroke-width="0.4"/>
<text x="453.2" y="244.00" font-size="7.2" class="ct" font-family="Liberation Sans, Arial, sans-serif">4h</text>
<rect x="434.1" y="247.40" width="16.9" height="6.2" fill="#0f0fd2" stroke="#444" stroke-width="0.4"/>
<text x="453.2" y="253.10" font-size="7.2" class="ct" font-family="Liberation Sans, Arial, sans-serif">24h</text>
<rect x="434.1" y="256.50" width="16.9" height="6.2" fill="#1fefef" stroke="#444" stroke-width="0.4"/>
<text x="453.2" y="262.20" font-size="7.2" class="ct" font-family="Liberation Sans, Arial, sans-serif">48h</text>
<text x="136" y="198.6" font-size="13" font-weight="bold" text-anchor="middle" fill="#111" font-family="Liberation Serif, Times New Roman, serif">(A)</text>
<text x="444" y="198.6" font-size="13" font-weight="bold" text-anchor="middle" fill="#111" font-family="Liberation Serif, Times New Roman, serif">(B)</text>
<text x="135.7" y="404.8" font-size="13" text-anchor="middle" fill="#111" font-family="Liberation Serif, Times New Roman, serif">(C)</text>
<text x="443.7" y="404.8" font-size="13" font-weight="bold" text-anchor="middle" fill="#111" font-family="Liberation Serif, Times New Roman, serif">(D)</text>
</svg>
</body></html>
